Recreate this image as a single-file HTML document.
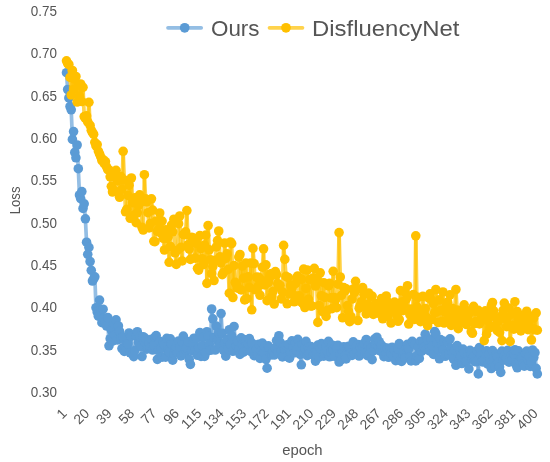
<!DOCTYPE html>
<html><head><meta charset="utf-8"><title>Loss</title>
<style>
html,body{margin:0;padding:0;background:#fff;}
svg{display:block;}
text{font-family:"Liberation Sans",sans-serif;fill:#555555;}
</style></head><body>
<svg width="550" height="462" viewBox="0 0 550 462">
<rect width="550" height="462" fill="#ffffff"/>

<g font-size="14px" text-anchor="start">
<text x="30.7" y="15.95" textLength="26.2" lengthAdjust="spacingAndGlyphs">0.75</text>
<text x="30.7" y="58.29" textLength="26.2" lengthAdjust="spacingAndGlyphs">0.70</text>
<text x="30.7" y="100.63" textLength="26.2" lengthAdjust="spacingAndGlyphs">0.65</text>
<text x="30.7" y="142.97" textLength="26.2" lengthAdjust="spacingAndGlyphs">0.60</text>
<text x="30.7" y="185.31" textLength="26.2" lengthAdjust="spacingAndGlyphs">0.55</text>
<text x="30.7" y="227.65" textLength="26.2" lengthAdjust="spacingAndGlyphs">0.50</text>
<text x="30.7" y="269.99" textLength="26.2" lengthAdjust="spacingAndGlyphs">0.45</text>
<text x="30.7" y="312.33" textLength="26.2" lengthAdjust="spacingAndGlyphs">0.40</text>
<text x="30.7" y="354.67" textLength="26.2" lengthAdjust="spacingAndGlyphs">0.35</text>
<text x="30.7" y="397.01" textLength="26.2" lengthAdjust="spacingAndGlyphs">0.30</text>
</g>
<g font-size="13.8px" text-anchor="end">
<text transform="translate(67.80,414.2) rotate(-45)">1</text>
<text transform="translate(90.22,414.2) rotate(-45)">20</text>
<text transform="translate(112.64,414.2) rotate(-45)">39</text>
<text transform="translate(135.06,414.2) rotate(-45)">58</text>
<text transform="translate(157.48,414.2) rotate(-45)">77</text>
<text transform="translate(179.90,414.2) rotate(-45)">96</text>
<text transform="translate(202.32,414.2) rotate(-45)">115</text>
<text transform="translate(224.74,414.2) rotate(-45)">134</text>
<text transform="translate(247.16,414.2) rotate(-45)">153</text>
<text transform="translate(269.58,414.2) rotate(-45)">172</text>
<text transform="translate(292.00,414.2) rotate(-45)">191</text>
<text transform="translate(314.42,414.2) rotate(-45)">210</text>
<text transform="translate(336.84,414.2) rotate(-45)">229</text>
<text transform="translate(359.26,414.2) rotate(-45)">248</text>
<text transform="translate(381.68,414.2) rotate(-45)">267</text>
<text transform="translate(404.10,414.2) rotate(-45)">286</text>
<text transform="translate(426.52,414.2) rotate(-45)">305</text>
<text transform="translate(448.94,414.2) rotate(-45)">324</text>
<text transform="translate(471.36,414.2) rotate(-45)">343</text>
<text transform="translate(493.78,414.2) rotate(-45)">362</text>
<text transform="translate(516.20,414.2) rotate(-45)">381</text>
<text transform="translate(538.62,414.2) rotate(-45)">400</text>
</g>
<text transform="translate(20,200.4) rotate(-90)" font-size="14.5px" text-anchor="middle" textLength="27.8" lengthAdjust="spacingAndGlyphs">Loss</text>
<text x="302.4" y="454.6" font-size="14.8px" text-anchor="middle" textLength="40.5" lengthAdjust="spacingAndGlyphs">epoch</text>
<g><g stroke="#5B9BD5" stroke-opacity="0.65" stroke-width="3.7" stroke-linecap="round"><line x1="66.50" y1="72.70" x2="67.68" y2="89.50"/><line x1="67.68" y1="89.50" x2="68.86" y2="97.90"/><line x1="68.86" y1="97.90" x2="70.04" y2="106.50"/><line x1="70.04" y1="106.50" x2="71.22" y2="109.80"/><line x1="71.22" y1="109.80" x2="72.40" y2="139.40"/><line x1="72.40" y1="139.40" x2="73.58" y2="131.60"/><line x1="73.58" y1="131.60" x2="74.76" y2="152.40"/><line x1="74.76" y1="152.40" x2="75.94" y2="157.80"/><line x1="75.94" y1="157.80" x2="77.12" y2="145.00"/><line x1="77.12" y1="145.00" x2="78.30" y2="168.70"/><line x1="78.30" y1="168.70" x2="79.48" y2="195.00"/><line x1="79.48" y1="195.00" x2="80.66" y2="198.60"/><line x1="80.66" y1="198.60" x2="81.84" y2="191.60"/><line x1="81.84" y1="191.60" x2="83.02" y2="208.40"/><line x1="83.02" y1="208.40" x2="84.20" y2="203.80"/><line x1="84.20" y1="203.80" x2="85.38" y2="218.80"/><line x1="85.38" y1="218.80" x2="86.56" y2="242.20"/><line x1="86.56" y1="242.20" x2="87.74" y2="254.30"/><line x1="87.74" y1="254.30" x2="88.92" y2="247.40"/><line x1="88.92" y1="247.40" x2="90.10" y2="261.50"/><line x1="90.10" y1="261.50" x2="91.28" y2="270.30"/><line x1="91.28" y1="270.30" x2="92.46" y2="281.00"/><line x1="92.46" y1="281.00" x2="93.64" y2="279.00"/><line x1="93.64" y1="279.00" x2="94.82" y2="276.80"/><line x1="94.82" y1="276.80" x2="96.00" y2="307.70"/><line x1="96.00" y1="307.70" x2="97.18" y2="312.00"/><line x1="97.18" y1="312.00" x2="98.36" y2="316.20"/><line x1="98.36" y1="316.20" x2="99.54" y2="300.10"/><line x1="99.54" y1="300.10" x2="100.72" y2="310.00"/><line x1="100.72" y1="310.00" x2="101.90" y2="322.70"/><line x1="101.90" y1="322.70" x2="103.08" y2="309.20"/><line x1="103.08" y1="309.20" x2="104.26" y2="318.00"/><line x1="104.26" y1="318.00" x2="105.44" y2="322.00"/><line x1="105.44" y1="322.00" x2="106.62" y2="326.00"/><line x1="106.62" y1="326.00" x2="107.80" y2="317.60"/><line x1="107.80" y1="317.60" x2="108.98" y2="345.80"/><line x1="108.98" y1="345.80" x2="110.16" y2="338.70"/><line x1="110.16" y1="338.70" x2="111.34" y2="330.00"/><line x1="111.34" y1="330.00" x2="112.52" y2="341.00"/><line x1="112.52" y1="341.00" x2="113.70" y2="323.60"/><line x1="113.70" y1="323.60" x2="114.88" y2="335.00"/><line x1="114.88" y1="335.00" x2="116.06" y2="319.90"/><line x1="116.06" y1="319.90" x2="117.24" y2="340.00"/><line x1="117.24" y1="340.00" x2="118.42" y2="326.00"/><line x1="118.42" y1="326.00" x2="119.60" y2="331.49"/><line x1="119.60" y1="331.49" x2="120.78" y2="338.09"/><line x1="120.78" y1="338.09" x2="121.96" y2="348.60"/><line x1="121.96" y1="348.60" x2="123.14" y2="336.98"/><line x1="123.14" y1="336.98" x2="124.32" y2="351.47"/><line x1="124.32" y1="351.47" x2="125.50" y2="346.84"/><line x1="125.50" y1="346.84" x2="126.68" y2="343.08"/><line x1="126.68" y1="343.08" x2="127.86" y2="343.79"/><line x1="127.86" y1="343.79" x2="129.04" y2="333.00"/><line x1="129.04" y1="333.00" x2="130.22" y2="352.85"/><line x1="130.22" y1="352.85" x2="131.40" y2="336.13"/><line x1="131.40" y1="336.13" x2="132.58" y2="354.00"/><line x1="132.58" y1="354.00" x2="133.76" y2="356.62"/><line x1="133.76" y1="356.62" x2="134.94" y2="350.32"/><line x1="134.94" y1="350.32" x2="136.12" y2="336.16"/><line x1="136.12" y1="336.16" x2="137.30" y2="331.70"/><line x1="137.30" y1="331.70" x2="138.48" y2="342.62"/><line x1="138.48" y1="342.62" x2="139.66" y2="336.34"/><line x1="139.66" y1="336.34" x2="140.84" y2="346.26"/><line x1="140.84" y1="346.26" x2="142.02" y2="356.50"/><line x1="142.02" y1="356.50" x2="143.20" y2="336.75"/><line x1="143.20" y1="336.75" x2="144.38" y2="341.65"/><line x1="144.38" y1="341.65" x2="145.56" y2="338.60"/><line x1="145.56" y1="338.60" x2="146.74" y2="349.22"/><line x1="146.74" y1="349.22" x2="147.92" y2="347.54"/><line x1="147.92" y1="347.54" x2="149.10" y2="343.10"/><line x1="149.10" y1="343.10" x2="150.28" y2="347.81"/><line x1="150.28" y1="347.81" x2="151.46" y2="339.33"/><line x1="151.46" y1="339.33" x2="152.64" y2="350.04"/><line x1="152.64" y1="350.04" x2="153.82" y2="345.33"/><line x1="153.82" y1="345.33" x2="155.00" y2="337.23"/><line x1="155.00" y1="337.23" x2="156.18" y2="335.62"/><line x1="156.18" y1="335.62" x2="157.36" y2="359.37"/><line x1="157.36" y1="359.37" x2="158.54" y2="350.20"/><line x1="158.54" y1="350.20" x2="159.72" y2="341.19"/><line x1="159.72" y1="341.19" x2="160.90" y2="348.11"/><line x1="160.90" y1="348.11" x2="162.08" y2="357.19"/><line x1="162.08" y1="357.19" x2="163.26" y2="342.50"/><line x1="163.26" y1="342.50" x2="164.44" y2="345.00"/><line x1="164.44" y1="345.00" x2="165.62" y2="357.16"/><line x1="165.62" y1="357.16" x2="166.80" y2="338.28"/><line x1="166.80" y1="338.28" x2="167.98" y2="349.96"/><line x1="167.98" y1="349.96" x2="169.16" y2="352.14"/><line x1="169.16" y1="352.14" x2="170.34" y2="338.91"/><line x1="170.34" y1="338.91" x2="171.52" y2="344.21"/><line x1="171.52" y1="344.21" x2="172.70" y2="360.15"/><line x1="172.70" y1="360.15" x2="173.88" y2="353.60"/><line x1="173.88" y1="353.60" x2="175.06" y2="349.22"/><line x1="175.06" y1="349.22" x2="176.24" y2="347.28"/><line x1="176.24" y1="347.28" x2="177.42" y2="352.79"/><line x1="177.42" y1="352.79" x2="178.60" y2="341.00"/><line x1="178.60" y1="341.00" x2="179.78" y2="347.03"/><line x1="179.78" y1="347.03" x2="180.96" y2="355.91"/><line x1="180.96" y1="355.91" x2="182.14" y2="341.84"/><line x1="182.14" y1="341.84" x2="183.32" y2="336.12"/><line x1="183.32" y1="336.12" x2="184.50" y2="353.58"/><line x1="184.50" y1="353.58" x2="185.68" y2="349.74"/><line x1="185.68" y1="349.74" x2="186.86" y2="348.01"/><line x1="186.86" y1="348.01" x2="188.04" y2="341.50"/><line x1="188.04" y1="341.50" x2="189.22" y2="359.43"/><line x1="189.22" y1="359.43" x2="190.40" y2="364.35"/><line x1="190.40" y1="364.35" x2="191.58" y2="350.55"/><line x1="191.58" y1="350.55" x2="192.76" y2="343.53"/><line x1="192.76" y1="343.53" x2="193.94" y2="338.26"/><line x1="193.94" y1="338.26" x2="195.12" y2="350.50"/><line x1="195.12" y1="350.50" x2="196.30" y2="338.25"/><line x1="196.30" y1="338.25" x2="197.48" y2="355.30"/><line x1="197.48" y1="355.30" x2="198.66" y2="347.55"/><line x1="198.66" y1="347.55" x2="199.84" y2="332.52"/><line x1="199.84" y1="332.52" x2="201.02" y2="356.35"/><line x1="201.02" y1="356.35" x2="202.20" y2="345.92"/><line x1="202.20" y1="345.92" x2="203.38" y2="337.29"/><line x1="203.38" y1="337.29" x2="204.56" y2="356.40"/><line x1="204.56" y1="356.40" x2="205.74" y2="352.75"/><line x1="205.74" y1="352.75" x2="206.92" y2="331.71"/><line x1="206.92" y1="331.71" x2="208.10" y2="335.88"/><line x1="208.10" y1="335.88" x2="209.28" y2="344.14"/><line x1="209.28" y1="344.14" x2="210.46" y2="350.25"/><line x1="210.46" y1="350.25" x2="211.64" y2="309.00"/><line x1="211.64" y1="309.00" x2="212.82" y2="318.80"/><line x1="212.82" y1="318.80" x2="214.00" y2="337.56"/><line x1="214.00" y1="337.56" x2="215.18" y2="350.00"/><line x1="215.18" y1="350.00" x2="216.36" y2="326.07"/><line x1="216.36" y1="326.07" x2="217.54" y2="340.06"/><line x1="217.54" y1="340.06" x2="218.72" y2="332.79"/><line x1="218.72" y1="332.79" x2="219.90" y2="344.45"/><line x1="219.90" y1="344.45" x2="221.08" y2="313.60"/><line x1="221.08" y1="313.60" x2="222.26" y2="333.25"/><line x1="222.26" y1="333.25" x2="223.44" y2="350.35"/><line x1="223.44" y1="350.35" x2="224.62" y2="343.17"/><line x1="224.62" y1="343.17" x2="225.80" y2="356.20"/><line x1="225.80" y1="356.20" x2="226.98" y2="339.51"/><line x1="226.98" y1="339.51" x2="228.16" y2="348.70"/><line x1="228.16" y1="348.70" x2="229.34" y2="329.68"/><line x1="229.34" y1="329.68" x2="230.52" y2="344.33"/><line x1="230.52" y1="344.33" x2="231.70" y2="335.79"/><line x1="231.70" y1="335.79" x2="232.88" y2="351.30"/><line x1="232.88" y1="351.30" x2="234.06" y2="326.44"/><line x1="234.06" y1="326.44" x2="235.24" y2="340.90"/><line x1="235.24" y1="340.90" x2="236.42" y2="345.88"/><line x1="236.42" y1="345.88" x2="237.60" y2="341.37"/><line x1="237.60" y1="341.37" x2="238.78" y2="349.65"/><line x1="238.78" y1="349.65" x2="239.96" y2="354.42"/><line x1="239.96" y1="354.42" x2="241.14" y2="337.87"/><line x1="241.14" y1="337.87" x2="242.32" y2="344.50"/><line x1="242.32" y1="344.50" x2="243.50" y2="352.13"/><line x1="243.50" y1="352.13" x2="244.68" y2="340.33"/><line x1="244.68" y1="340.33" x2="245.86" y2="339.81"/><line x1="245.86" y1="339.81" x2="247.04" y2="349.97"/><line x1="247.04" y1="349.97" x2="248.22" y2="344.20"/><line x1="248.22" y1="344.20" x2="249.40" y2="338.52"/><line x1="249.40" y1="338.52" x2="250.58" y2="351.42"/><line x1="250.58" y1="351.42" x2="251.76" y2="343.00"/><line x1="251.76" y1="343.00" x2="252.94" y2="350.45"/><line x1="252.94" y1="350.45" x2="254.12" y2="355.72"/><line x1="254.12" y1="355.72" x2="255.30" y2="345.03"/><line x1="255.30" y1="345.03" x2="256.48" y2="349.28"/><line x1="256.48" y1="349.28" x2="257.66" y2="355.04"/><line x1="257.66" y1="355.04" x2="258.84" y2="344.22"/><line x1="258.84" y1="344.22" x2="260.02" y2="358.44"/><line x1="260.02" y1="358.44" x2="261.20" y2="351.17"/><line x1="261.20" y1="351.17" x2="262.38" y2="343.15"/><line x1="262.38" y1="343.15" x2="263.56" y2="352.71"/><line x1="263.56" y1="352.71" x2="264.74" y2="346.49"/><line x1="264.74" y1="346.49" x2="265.92" y2="359.42"/><line x1="265.92" y1="359.42" x2="267.10" y2="368.20"/><line x1="267.10" y1="368.20" x2="268.28" y2="345.80"/><line x1="268.28" y1="345.80" x2="269.46" y2="347.95"/><line x1="269.46" y1="347.95" x2="270.64" y2="354.88"/><line x1="270.64" y1="354.88" x2="271.82" y2="354.57"/><line x1="271.82" y1="354.57" x2="273.00" y2="351.01"/><line x1="273.00" y1="351.01" x2="274.18" y2="354.99"/><line x1="274.18" y1="354.99" x2="275.36" y2="348.06"/><line x1="275.36" y1="348.06" x2="276.54" y2="340.58"/><line x1="276.54" y1="340.58" x2="277.72" y2="352.02"/><line x1="277.72" y1="352.02" x2="278.90" y2="335.75"/><line x1="278.90" y1="335.75" x2="280.08" y2="342.08"/><line x1="280.08" y1="342.08" x2="281.26" y2="350.52"/><line x1="281.26" y1="350.52" x2="282.44" y2="356.88"/><line x1="282.44" y1="356.88" x2="283.62" y2="346.56"/><line x1="283.62" y1="346.56" x2="284.80" y2="349.58"/><line x1="284.80" y1="349.58" x2="285.98" y2="345.42"/><line x1="285.98" y1="345.42" x2="287.16" y2="356.51"/><line x1="287.16" y1="356.51" x2="288.34" y2="344.46"/><line x1="288.34" y1="344.46" x2="289.52" y2="358.22"/><line x1="289.52" y1="358.22" x2="290.70" y2="352.61"/><line x1="290.70" y1="352.61" x2="291.88" y2="340.88"/><line x1="291.88" y1="340.88" x2="293.06" y2="347.39"/><line x1="293.06" y1="347.39" x2="294.24" y2="352.93"/><line x1="294.24" y1="352.93" x2="295.42" y2="342.77"/><line x1="295.42" y1="342.77" x2="296.60" y2="350.40"/><line x1="296.60" y1="350.40" x2="297.78" y2="339.37"/><line x1="297.78" y1="339.37" x2="298.96" y2="346.60"/><line x1="298.96" y1="346.60" x2="300.14" y2="354.42"/><line x1="300.14" y1="354.42" x2="301.32" y2="364.80"/><line x1="301.32" y1="364.80" x2="302.50" y2="344.73"/><line x1="302.50" y1="344.73" x2="303.68" y2="350.77"/><line x1="303.68" y1="350.77" x2="304.86" y2="348.73"/><line x1="304.86" y1="348.73" x2="306.04" y2="341.41"/><line x1="306.04" y1="341.41" x2="307.22" y2="355.66"/><line x1="307.22" y1="355.66" x2="308.40" y2="347.05"/><line x1="308.40" y1="347.05" x2="309.58" y2="353.61"/><line x1="309.58" y1="353.61" x2="310.76" y2="346.49"/><line x1="310.76" y1="346.49" x2="311.94" y2="349.55"/><line x1="311.94" y1="349.55" x2="313.12" y2="355.16"/><line x1="313.12" y1="355.16" x2="314.30" y2="352.93"/><line x1="314.30" y1="352.93" x2="315.48" y2="361.12"/><line x1="315.48" y1="361.12" x2="316.66" y2="351.99"/><line x1="316.66" y1="351.99" x2="317.84" y2="345.07"/><line x1="317.84" y1="345.07" x2="319.02" y2="357.16"/><line x1="319.02" y1="357.16" x2="320.20" y2="348.57"/><line x1="320.20" y1="348.57" x2="321.38" y2="343.56"/><line x1="321.38" y1="343.56" x2="322.56" y2="345.66"/><line x1="322.56" y1="345.66" x2="323.74" y2="356.09"/><line x1="323.74" y1="356.09" x2="324.92" y2="353.28"/><line x1="324.92" y1="353.28" x2="326.10" y2="346.40"/><line x1="326.10" y1="346.40" x2="327.28" y2="351.09"/><line x1="327.28" y1="351.09" x2="328.46" y2="341.38"/><line x1="328.46" y1="341.38" x2="329.64" y2="356.82"/><line x1="329.64" y1="356.82" x2="330.82" y2="352.47"/><line x1="330.82" y1="352.47" x2="332.00" y2="344.95"/><line x1="332.00" y1="344.95" x2="333.18" y2="349.89"/><line x1="333.18" y1="349.89" x2="334.36" y2="356.30"/><line x1="334.36" y1="356.30" x2="335.54" y2="346.13"/><line x1="335.54" y1="346.13" x2="336.72" y2="348.08"/><line x1="336.72" y1="348.08" x2="337.90" y2="345.28"/><line x1="337.90" y1="345.28" x2="339.08" y2="362.06"/><line x1="339.08" y1="362.06" x2="340.26" y2="354.24"/><line x1="340.26" y1="354.24" x2="341.44" y2="359.58"/><line x1="341.44" y1="359.58" x2="342.62" y2="351.77"/><line x1="342.62" y1="351.77" x2="343.80" y2="346.70"/><line x1="343.80" y1="346.70" x2="344.98" y2="356.24"/><line x1="344.98" y1="356.24" x2="346.16" y2="358.84"/><line x1="346.16" y1="358.84" x2="347.34" y2="347.37"/><line x1="347.34" y1="347.37" x2="348.52" y2="346.32"/><line x1="348.52" y1="346.32" x2="349.70" y2="347.78"/><line x1="349.70" y1="347.78" x2="350.88" y2="352.91"/><line x1="350.88" y1="352.91" x2="352.06" y2="355.46"/><line x1="352.06" y1="355.46" x2="353.24" y2="341.88"/><line x1="353.24" y1="341.88" x2="354.42" y2="353.65"/><line x1="354.42" y1="353.65" x2="355.60" y2="347.62"/><line x1="355.60" y1="347.62" x2="356.78" y2="350.81"/><line x1="356.78" y1="350.81" x2="357.96" y2="344.57"/><line x1="357.96" y1="344.57" x2="359.14" y2="356.06"/><line x1="359.14" y1="356.06" x2="360.32" y2="347.25"/><line x1="360.32" y1="347.25" x2="361.50" y2="353.79"/><line x1="361.50" y1="353.79" x2="362.68" y2="346.09"/><line x1="362.68" y1="346.09" x2="363.86" y2="343.43"/><line x1="363.86" y1="343.43" x2="365.04" y2="353.57"/><line x1="365.04" y1="353.57" x2="366.22" y2="339.50"/><line x1="366.22" y1="339.50" x2="367.40" y2="355.72"/><line x1="367.40" y1="355.72" x2="368.58" y2="345.70"/><line x1="368.58" y1="345.70" x2="369.76" y2="353.42"/><line x1="369.76" y1="353.42" x2="370.94" y2="348.06"/><line x1="370.94" y1="348.06" x2="372.12" y2="359.59"/><line x1="372.12" y1="359.59" x2="373.30" y2="350.89"/><line x1="373.30" y1="350.89" x2="374.48" y2="339.07"/><line x1="374.48" y1="339.07" x2="375.66" y2="344.54"/><line x1="375.66" y1="344.54" x2="376.84" y2="337.24"/><line x1="376.84" y1="337.24" x2="378.02" y2="346.33"/><line x1="378.02" y1="346.33" x2="379.20" y2="341.71"/><line x1="379.20" y1="341.71" x2="380.38" y2="351.18"/><line x1="380.38" y1="351.18" x2="381.56" y2="345.02"/><line x1="381.56" y1="345.02" x2="382.74" y2="352.27"/><line x1="382.74" y1="352.27" x2="383.92" y2="356.69"/><line x1="383.92" y1="356.69" x2="385.10" y2="347.71"/><line x1="385.10" y1="347.71" x2="386.28" y2="353.66"/><line x1="386.28" y1="353.66" x2="387.46" y2="348.38"/><line x1="387.46" y1="348.38" x2="388.64" y2="357.32"/><line x1="388.64" y1="357.32" x2="389.82" y2="348.28"/><line x1="389.82" y1="348.28" x2="391.00" y2="353.46"/><line x1="391.00" y1="353.46" x2="392.18" y2="347.39"/><line x1="392.18" y1="347.39" x2="393.36" y2="355.74"/><line x1="393.36" y1="355.74" x2="394.54" y2="350.18"/><line x1="394.54" y1="350.18" x2="395.72" y2="360.69"/><line x1="395.72" y1="360.69" x2="396.90" y2="354.10"/><line x1="396.90" y1="354.10" x2="398.08" y2="349.22"/><line x1="398.08" y1="349.22" x2="399.26" y2="343.62"/><line x1="399.26" y1="343.62" x2="400.44" y2="360.46"/><line x1="400.44" y1="360.46" x2="401.62" y2="361.44"/><line x1="401.62" y1="361.44" x2="402.80" y2="354.13"/><line x1="402.80" y1="354.13" x2="403.98" y2="351.40"/><line x1="403.98" y1="351.40" x2="405.16" y2="357.98"/><line x1="405.16" y1="357.98" x2="406.34" y2="347.32"/><line x1="406.34" y1="347.32" x2="407.52" y2="344.22"/><line x1="407.52" y1="344.22" x2="408.70" y2="348.94"/><line x1="408.70" y1="348.94" x2="409.88" y2="356.80"/><line x1="409.88" y1="356.80" x2="411.06" y2="360.89"/><line x1="411.06" y1="360.89" x2="412.24" y2="341.40"/><line x1="412.24" y1="341.40" x2="413.42" y2="343.45"/><line x1="413.42" y1="343.45" x2="414.60" y2="344.55"/><line x1="414.60" y1="344.55" x2="415.78" y2="360.89"/><line x1="415.78" y1="360.89" x2="416.96" y2="355.64"/><line x1="416.96" y1="355.64" x2="418.14" y2="347.13"/><line x1="418.14" y1="347.13" x2="419.32" y2="358.38"/><line x1="419.32" y1="358.38" x2="420.50" y2="341.23"/><line x1="420.50" y1="341.23" x2="421.68" y2="351.30"/><line x1="421.68" y1="351.30" x2="422.86" y2="342.15"/><line x1="422.86" y1="342.15" x2="424.04" y2="346.93"/><line x1="424.04" y1="346.93" x2="425.22" y2="334.17"/><line x1="425.22" y1="334.17" x2="426.40" y2="349.44"/><line x1="426.40" y1="349.44" x2="427.58" y2="339.74"/><line x1="427.58" y1="339.74" x2="428.76" y2="349.59"/><line x1="428.76" y1="349.59" x2="429.94" y2="351.16"/><line x1="429.94" y1="351.16" x2="431.12" y2="339.09"/><line x1="431.12" y1="339.09" x2="432.30" y2="345.95"/><line x1="432.30" y1="345.95" x2="433.48" y2="354.42"/><line x1="433.48" y1="354.42" x2="434.66" y2="331.46"/><line x1="434.66" y1="331.46" x2="435.84" y2="333.60"/><line x1="435.84" y1="333.60" x2="437.02" y2="343.63"/><line x1="437.02" y1="343.63" x2="438.20" y2="349.37"/><line x1="438.20" y1="349.37" x2="439.38" y2="358.80"/><line x1="439.38" y1="358.80" x2="440.56" y2="339.59"/><line x1="440.56" y1="339.59" x2="441.74" y2="345.19"/><line x1="441.74" y1="345.19" x2="442.92" y2="349.91"/><line x1="442.92" y1="349.91" x2="444.10" y2="341.34"/><line x1="444.10" y1="341.34" x2="445.28" y2="356.32"/><line x1="445.28" y1="356.32" x2="446.46" y2="353.86"/><line x1="446.46" y1="353.86" x2="447.64" y2="341.86"/><line x1="447.64" y1="341.86" x2="448.82" y2="354.34"/><line x1="448.82" y1="354.34" x2="450.00" y2="338.80"/><line x1="450.00" y1="338.80" x2="451.18" y2="348.31"/><line x1="451.18" y1="348.31" x2="452.36" y2="352.63"/><line x1="452.36" y1="352.63" x2="453.54" y2="359.11"/><line x1="453.54" y1="359.11" x2="454.72" y2="350.14"/><line x1="454.72" y1="350.14" x2="455.90" y2="365.27"/><line x1="455.90" y1="365.27" x2="457.08" y2="345.52"/><line x1="457.08" y1="345.52" x2="458.26" y2="356.87"/><line x1="458.26" y1="356.87" x2="459.44" y2="354.34"/><line x1="459.44" y1="354.34" x2="460.62" y2="356.22"/><line x1="460.62" y1="356.22" x2="461.80" y2="363.52"/><line x1="461.80" y1="363.52" x2="462.98" y2="349.06"/><line x1="462.98" y1="349.06" x2="464.16" y2="352.68"/><line x1="464.16" y1="352.68" x2="465.34" y2="360.91"/><line x1="465.34" y1="360.91" x2="466.52" y2="360.79"/><line x1="466.52" y1="360.79" x2="467.70" y2="354.57"/><line x1="467.70" y1="354.57" x2="468.88" y2="368.94"/><line x1="468.88" y1="368.94" x2="470.06" y2="350.32"/><line x1="470.06" y1="350.32" x2="471.24" y2="354.30"/><line x1="471.24" y1="354.30" x2="472.42" y2="359.18"/><line x1="472.42" y1="359.18" x2="473.60" y2="356.44"/><line x1="473.60" y1="356.44" x2="474.78" y2="361.50"/><line x1="474.78" y1="361.50" x2="475.96" y2="361.81"/><line x1="475.96" y1="361.81" x2="477.14" y2="350.69"/><line x1="477.14" y1="350.69" x2="478.32" y2="373.90"/><line x1="478.32" y1="373.90" x2="479.50" y2="347.44"/><line x1="479.50" y1="347.44" x2="480.68" y2="355.12"/><line x1="480.68" y1="355.12" x2="481.86" y2="361.11"/><line x1="481.86" y1="361.11" x2="483.04" y2="362.05"/><line x1="483.04" y1="362.05" x2="484.22" y2="360.19"/><line x1="484.22" y1="360.19" x2="485.40" y2="353.57"/><line x1="485.40" y1="353.57" x2="486.58" y2="350.87"/><line x1="486.58" y1="350.87" x2="487.76" y2="364.07"/><line x1="487.76" y1="364.07" x2="488.94" y2="354.46"/><line x1="488.94" y1="354.46" x2="490.12" y2="359.86"/><line x1="490.12" y1="359.86" x2="491.30" y2="368.52"/><line x1="491.30" y1="368.52" x2="492.48" y2="350.62"/><line x1="492.48" y1="350.62" x2="493.66" y2="358.06"/><line x1="493.66" y1="358.06" x2="494.84" y2="366.30"/><line x1="494.84" y1="366.30" x2="496.02" y2="353.95"/><line x1="496.02" y1="353.95" x2="497.20" y2="356.71"/><line x1="497.20" y1="356.71" x2="498.38" y2="362.36"/><line x1="498.38" y1="362.36" x2="499.56" y2="367.10"/><line x1="499.56" y1="367.10" x2="500.74" y2="372.37"/><line x1="500.74" y1="372.37" x2="501.92" y2="351.02"/><line x1="501.92" y1="351.02" x2="503.10" y2="360.24"/><line x1="503.10" y1="360.24" x2="504.28" y2="355.87"/><line x1="504.28" y1="355.87" x2="505.46" y2="354.71"/><line x1="505.46" y1="354.71" x2="506.64" y2="358.57"/><line x1="506.64" y1="358.57" x2="507.82" y2="350.20"/><line x1="507.82" y1="350.20" x2="509.00" y2="362.16"/><line x1="509.00" y1="362.16" x2="510.18" y2="358.74"/><line x1="510.18" y1="358.74" x2="511.36" y2="355.26"/><line x1="511.36" y1="355.26" x2="512.54" y2="358.86"/><line x1="512.54" y1="358.86" x2="513.72" y2="353.92"/><line x1="513.72" y1="353.92" x2="514.90" y2="349.76"/><line x1="514.90" y1="349.76" x2="516.08" y2="364.74"/><line x1="516.08" y1="364.74" x2="517.26" y2="367.77"/><line x1="517.26" y1="367.77" x2="518.44" y2="350.80"/><line x1="518.44" y1="350.80" x2="519.62" y2="361.10"/><line x1="519.62" y1="361.10" x2="520.80" y2="357.03"/><line x1="520.80" y1="357.03" x2="521.98" y2="358.04"/><line x1="521.98" y1="358.04" x2="523.16" y2="364.02"/><line x1="523.16" y1="364.02" x2="524.34" y2="366.17"/><line x1="524.34" y1="366.17" x2="525.52" y2="353.40"/><line x1="525.52" y1="353.40" x2="526.70" y2="351.02"/><line x1="526.70" y1="351.02" x2="527.88" y2="359.86"/><line x1="527.88" y1="359.86" x2="529.06" y2="356.10"/><line x1="529.06" y1="356.10" x2="530.24" y2="366.39"/><line x1="530.24" y1="366.39" x2="531.42" y2="362.75"/><line x1="531.42" y1="362.75" x2="532.60" y2="349.94"/><line x1="532.60" y1="349.94" x2="533.78" y2="357.52"/><line x1="533.78" y1="357.52" x2="534.96" y2="352.64"/><line x1="534.96" y1="352.64" x2="536.14" y2="368.40"/><line x1="536.14" y1="368.40" x2="537.32" y2="373.90"/></g><g fill="#5B9BD5"><circle cx="66.50" cy="72.70" r="4.8"/><circle cx="67.68" cy="89.50" r="4.8"/><circle cx="68.86" cy="97.90" r="4.8"/><circle cx="70.04" cy="106.50" r="4.8"/><circle cx="71.22" cy="109.80" r="4.8"/><circle cx="72.40" cy="139.40" r="4.8"/><circle cx="73.58" cy="131.60" r="4.8"/><circle cx="74.76" cy="152.40" r="4.8"/><circle cx="75.94" cy="157.80" r="4.8"/><circle cx="77.12" cy="145.00" r="4.8"/><circle cx="78.30" cy="168.70" r="4.8"/><circle cx="79.48" cy="195.00" r="4.8"/><circle cx="80.66" cy="198.60" r="4.8"/><circle cx="81.84" cy="191.60" r="4.8"/><circle cx="83.02" cy="208.40" r="4.8"/><circle cx="84.20" cy="203.80" r="4.8"/><circle cx="85.38" cy="218.80" r="4.8"/><circle cx="86.56" cy="242.20" r="4.8"/><circle cx="87.74" cy="254.30" r="4.8"/><circle cx="88.92" cy="247.40" r="4.8"/><circle cx="90.10" cy="261.50" r="4.8"/><circle cx="91.28" cy="270.30" r="4.8"/><circle cx="92.46" cy="281.00" r="4.8"/><circle cx="93.64" cy="279.00" r="4.8"/><circle cx="94.82" cy="276.80" r="4.8"/><circle cx="96.00" cy="307.70" r="4.8"/><circle cx="97.18" cy="312.00" r="4.8"/><circle cx="98.36" cy="316.20" r="4.8"/><circle cx="99.54" cy="300.10" r="4.8"/><circle cx="100.72" cy="310.00" r="4.8"/><circle cx="101.90" cy="322.70" r="4.8"/><circle cx="103.08" cy="309.20" r="4.8"/><circle cx="104.26" cy="318.00" r="4.8"/><circle cx="105.44" cy="322.00" r="4.8"/><circle cx="106.62" cy="326.00" r="4.8"/><circle cx="107.80" cy="317.60" r="4.8"/><circle cx="108.98" cy="345.80" r="4.8"/><circle cx="110.16" cy="338.70" r="4.8"/><circle cx="111.34" cy="330.00" r="4.8"/><circle cx="112.52" cy="341.00" r="4.8"/><circle cx="113.70" cy="323.60" r="4.8"/><circle cx="114.88" cy="335.00" r="4.8"/><circle cx="116.06" cy="319.90" r="4.8"/><circle cx="117.24" cy="340.00" r="4.8"/><circle cx="118.42" cy="326.00" r="4.8"/><circle cx="119.60" cy="331.49" r="4.8"/><circle cx="120.78" cy="338.09" r="4.8"/><circle cx="121.96" cy="348.60" r="4.8"/><circle cx="123.14" cy="336.98" r="4.8"/><circle cx="124.32" cy="351.47" r="4.8"/><circle cx="125.50" cy="346.84" r="4.8"/><circle cx="126.68" cy="343.08" r="4.8"/><circle cx="127.86" cy="343.79" r="4.8"/><circle cx="129.04" cy="333.00" r="4.8"/><circle cx="130.22" cy="352.85" r="4.8"/><circle cx="131.40" cy="336.13" r="4.8"/><circle cx="132.58" cy="354.00" r="4.8"/><circle cx="133.76" cy="356.62" r="4.8"/><circle cx="134.94" cy="350.32" r="4.8"/><circle cx="136.12" cy="336.16" r="4.8"/><circle cx="137.30" cy="331.70" r="4.8"/><circle cx="138.48" cy="342.62" r="4.8"/><circle cx="139.66" cy="336.34" r="4.8"/><circle cx="140.84" cy="346.26" r="4.8"/><circle cx="142.02" cy="356.50" r="4.8"/><circle cx="143.20" cy="336.75" r="4.8"/><circle cx="144.38" cy="341.65" r="4.8"/><circle cx="145.56" cy="338.60" r="4.8"/><circle cx="146.74" cy="349.22" r="4.8"/><circle cx="147.92" cy="347.54" r="4.8"/><circle cx="149.10" cy="343.10" r="4.8"/><circle cx="150.28" cy="347.81" r="4.8"/><circle cx="151.46" cy="339.33" r="4.8"/><circle cx="152.64" cy="350.04" r="4.8"/><circle cx="153.82" cy="345.33" r="4.8"/><circle cx="155.00" cy="337.23" r="4.8"/><circle cx="156.18" cy="335.62" r="4.8"/><circle cx="157.36" cy="359.37" r="4.8"/><circle cx="158.54" cy="350.20" r="4.8"/><circle cx="159.72" cy="341.19" r="4.8"/><circle cx="160.90" cy="348.11" r="4.8"/><circle cx="162.08" cy="357.19" r="4.8"/><circle cx="163.26" cy="342.50" r="4.8"/><circle cx="164.44" cy="345.00" r="4.8"/><circle cx="165.62" cy="357.16" r="4.8"/><circle cx="166.80" cy="338.28" r="4.8"/><circle cx="167.98" cy="349.96" r="4.8"/><circle cx="169.16" cy="352.14" r="4.8"/><circle cx="170.34" cy="338.91" r="4.8"/><circle cx="171.52" cy="344.21" r="4.8"/><circle cx="172.70" cy="360.15" r="4.8"/><circle cx="173.88" cy="353.60" r="4.8"/><circle cx="175.06" cy="349.22" r="4.8"/><circle cx="176.24" cy="347.28" r="4.8"/><circle cx="177.42" cy="352.79" r="4.8"/><circle cx="178.60" cy="341.00" r="4.8"/><circle cx="179.78" cy="347.03" r="4.8"/><circle cx="180.96" cy="355.91" r="4.8"/><circle cx="182.14" cy="341.84" r="4.8"/><circle cx="183.32" cy="336.12" r="4.8"/><circle cx="184.50" cy="353.58" r="4.8"/><circle cx="185.68" cy="349.74" r="4.8"/><circle cx="186.86" cy="348.01" r="4.8"/><circle cx="188.04" cy="341.50" r="4.8"/><circle cx="189.22" cy="359.43" r="4.8"/><circle cx="190.40" cy="364.35" r="4.8"/><circle cx="191.58" cy="350.55" r="4.8"/><circle cx="192.76" cy="343.53" r="4.8"/><circle cx="193.94" cy="338.26" r="4.8"/><circle cx="195.12" cy="350.50" r="4.8"/><circle cx="196.30" cy="338.25" r="4.8"/><circle cx="197.48" cy="355.30" r="4.8"/><circle cx="198.66" cy="347.55" r="4.8"/><circle cx="199.84" cy="332.52" r="4.8"/><circle cx="201.02" cy="356.35" r="4.8"/><circle cx="202.20" cy="345.92" r="4.8"/><circle cx="203.38" cy="337.29" r="4.8"/><circle cx="204.56" cy="356.40" r="4.8"/><circle cx="205.74" cy="352.75" r="4.8"/><circle cx="206.92" cy="331.71" r="4.8"/><circle cx="208.10" cy="335.88" r="4.8"/><circle cx="209.28" cy="344.14" r="4.8"/><circle cx="210.46" cy="350.25" r="4.8"/><circle cx="211.64" cy="309.00" r="4.8"/><circle cx="212.82" cy="318.80" r="4.8"/><circle cx="214.00" cy="337.56" r="4.8"/><circle cx="215.18" cy="350.00" r="4.8"/><circle cx="216.36" cy="326.07" r="4.8"/><circle cx="217.54" cy="340.06" r="4.8"/><circle cx="218.72" cy="332.79" r="4.8"/><circle cx="219.90" cy="344.45" r="4.8"/><circle cx="221.08" cy="313.60" r="4.8"/><circle cx="222.26" cy="333.25" r="4.8"/><circle cx="223.44" cy="350.35" r="4.8"/><circle cx="224.62" cy="343.17" r="4.8"/><circle cx="225.80" cy="356.20" r="4.8"/><circle cx="226.98" cy="339.51" r="4.8"/><circle cx="228.16" cy="348.70" r="4.8"/><circle cx="229.34" cy="329.68" r="4.8"/><circle cx="230.52" cy="344.33" r="4.8"/><circle cx="231.70" cy="335.79" r="4.8"/><circle cx="232.88" cy="351.30" r="4.8"/><circle cx="234.06" cy="326.44" r="4.8"/><circle cx="235.24" cy="340.90" r="4.8"/><circle cx="236.42" cy="345.88" r="4.8"/><circle cx="237.60" cy="341.37" r="4.8"/><circle cx="238.78" cy="349.65" r="4.8"/><circle cx="239.96" cy="354.42" r="4.8"/><circle cx="241.14" cy="337.87" r="4.8"/><circle cx="242.32" cy="344.50" r="4.8"/><circle cx="243.50" cy="352.13" r="4.8"/><circle cx="244.68" cy="340.33" r="4.8"/><circle cx="245.86" cy="339.81" r="4.8"/><circle cx="247.04" cy="349.97" r="4.8"/><circle cx="248.22" cy="344.20" r="4.8"/><circle cx="249.40" cy="338.52" r="4.8"/><circle cx="250.58" cy="351.42" r="4.8"/><circle cx="251.76" cy="343.00" r="4.8"/><circle cx="252.94" cy="350.45" r="4.8"/><circle cx="254.12" cy="355.72" r="4.8"/><circle cx="255.30" cy="345.03" r="4.8"/><circle cx="256.48" cy="349.28" r="4.8"/><circle cx="257.66" cy="355.04" r="4.8"/><circle cx="258.84" cy="344.22" r="4.8"/><circle cx="260.02" cy="358.44" r="4.8"/><circle cx="261.20" cy="351.17" r="4.8"/><circle cx="262.38" cy="343.15" r="4.8"/><circle cx="263.56" cy="352.71" r="4.8"/><circle cx="264.74" cy="346.49" r="4.8"/><circle cx="265.92" cy="359.42" r="4.8"/><circle cx="267.10" cy="368.20" r="4.8"/><circle cx="268.28" cy="345.80" r="4.8"/><circle cx="269.46" cy="347.95" r="4.8"/><circle cx="270.64" cy="354.88" r="4.8"/><circle cx="271.82" cy="354.57" r="4.8"/><circle cx="273.00" cy="351.01" r="4.8"/><circle cx="274.18" cy="354.99" r="4.8"/><circle cx="275.36" cy="348.06" r="4.8"/><circle cx="276.54" cy="340.58" r="4.8"/><circle cx="277.72" cy="352.02" r="4.8"/><circle cx="278.90" cy="335.75" r="4.8"/><circle cx="280.08" cy="342.08" r="4.8"/><circle cx="281.26" cy="350.52" r="4.8"/><circle cx="282.44" cy="356.88" r="4.8"/><circle cx="283.62" cy="346.56" r="4.8"/><circle cx="284.80" cy="349.58" r="4.8"/><circle cx="285.98" cy="345.42" r="4.8"/><circle cx="287.16" cy="356.51" r="4.8"/><circle cx="288.34" cy="344.46" r="4.8"/><circle cx="289.52" cy="358.22" r="4.8"/><circle cx="290.70" cy="352.61" r="4.8"/><circle cx="291.88" cy="340.88" r="4.8"/><circle cx="293.06" cy="347.39" r="4.8"/><circle cx="294.24" cy="352.93" r="4.8"/><circle cx="295.42" cy="342.77" r="4.8"/><circle cx="296.60" cy="350.40" r="4.8"/><circle cx="297.78" cy="339.37" r="4.8"/><circle cx="298.96" cy="346.60" r="4.8"/><circle cx="300.14" cy="354.42" r="4.8"/><circle cx="301.32" cy="364.80" r="4.8"/><circle cx="302.50" cy="344.73" r="4.8"/><circle cx="303.68" cy="350.77" r="4.8"/><circle cx="304.86" cy="348.73" r="4.8"/><circle cx="306.04" cy="341.41" r="4.8"/><circle cx="307.22" cy="355.66" r="4.8"/><circle cx="308.40" cy="347.05" r="4.8"/><circle cx="309.58" cy="353.61" r="4.8"/><circle cx="310.76" cy="346.49" r="4.8"/><circle cx="311.94" cy="349.55" r="4.8"/><circle cx="313.12" cy="355.16" r="4.8"/><circle cx="314.30" cy="352.93" r="4.8"/><circle cx="315.48" cy="361.12" r="4.8"/><circle cx="316.66" cy="351.99" r="4.8"/><circle cx="317.84" cy="345.07" r="4.8"/><circle cx="319.02" cy="357.16" r="4.8"/><circle cx="320.20" cy="348.57" r="4.8"/><circle cx="321.38" cy="343.56" r="4.8"/><circle cx="322.56" cy="345.66" r="4.8"/><circle cx="323.74" cy="356.09" r="4.8"/><circle cx="324.92" cy="353.28" r="4.8"/><circle cx="326.10" cy="346.40" r="4.8"/><circle cx="327.28" cy="351.09" r="4.8"/><circle cx="328.46" cy="341.38" r="4.8"/><circle cx="329.64" cy="356.82" r="4.8"/><circle cx="330.82" cy="352.47" r="4.8"/><circle cx="332.00" cy="344.95" r="4.8"/><circle cx="333.18" cy="349.89" r="4.8"/><circle cx="334.36" cy="356.30" r="4.8"/><circle cx="335.54" cy="346.13" r="4.8"/><circle cx="336.72" cy="348.08" r="4.8"/><circle cx="337.90" cy="345.28" r="4.8"/><circle cx="339.08" cy="362.06" r="4.8"/><circle cx="340.26" cy="354.24" r="4.8"/><circle cx="341.44" cy="359.58" r="4.8"/><circle cx="342.62" cy="351.77" r="4.8"/><circle cx="343.80" cy="346.70" r="4.8"/><circle cx="344.98" cy="356.24" r="4.8"/><circle cx="346.16" cy="358.84" r="4.8"/><circle cx="347.34" cy="347.37" r="4.8"/><circle cx="348.52" cy="346.32" r="4.8"/><circle cx="349.70" cy="347.78" r="4.8"/><circle cx="350.88" cy="352.91" r="4.8"/><circle cx="352.06" cy="355.46" r="4.8"/><circle cx="353.24" cy="341.88" r="4.8"/><circle cx="354.42" cy="353.65" r="4.8"/><circle cx="355.60" cy="347.62" r="4.8"/><circle cx="356.78" cy="350.81" r="4.8"/><circle cx="357.96" cy="344.57" r="4.8"/><circle cx="359.14" cy="356.06" r="4.8"/><circle cx="360.32" cy="347.25" r="4.8"/><circle cx="361.50" cy="353.79" r="4.8"/><circle cx="362.68" cy="346.09" r="4.8"/><circle cx="363.86" cy="343.43" r="4.8"/><circle cx="365.04" cy="353.57" r="4.8"/><circle cx="366.22" cy="339.50" r="4.8"/><circle cx="367.40" cy="355.72" r="4.8"/><circle cx="368.58" cy="345.70" r="4.8"/><circle cx="369.76" cy="353.42" r="4.8"/><circle cx="370.94" cy="348.06" r="4.8"/><circle cx="372.12" cy="359.59" r="4.8"/><circle cx="373.30" cy="350.89" r="4.8"/><circle cx="374.48" cy="339.07" r="4.8"/><circle cx="375.66" cy="344.54" r="4.8"/><circle cx="376.84" cy="337.24" r="4.8"/><circle cx="378.02" cy="346.33" r="4.8"/><circle cx="379.20" cy="341.71" r="4.8"/><circle cx="380.38" cy="351.18" r="4.8"/><circle cx="381.56" cy="345.02" r="4.8"/><circle cx="382.74" cy="352.27" r="4.8"/><circle cx="383.92" cy="356.69" r="4.8"/><circle cx="385.10" cy="347.71" r="4.8"/><circle cx="386.28" cy="353.66" r="4.8"/><circle cx="387.46" cy="348.38" r="4.8"/><circle cx="388.64" cy="357.32" r="4.8"/><circle cx="389.82" cy="348.28" r="4.8"/><circle cx="391.00" cy="353.46" r="4.8"/><circle cx="392.18" cy="347.39" r="4.8"/><circle cx="393.36" cy="355.74" r="4.8"/><circle cx="394.54" cy="350.18" r="4.8"/><circle cx="395.72" cy="360.69" r="4.8"/><circle cx="396.90" cy="354.10" r="4.8"/><circle cx="398.08" cy="349.22" r="4.8"/><circle cx="399.26" cy="343.62" r="4.8"/><circle cx="400.44" cy="360.46" r="4.8"/><circle cx="401.62" cy="361.44" r="4.8"/><circle cx="402.80" cy="354.13" r="4.8"/><circle cx="403.98" cy="351.40" r="4.8"/><circle cx="405.16" cy="357.98" r="4.8"/><circle cx="406.34" cy="347.32" r="4.8"/><circle cx="407.52" cy="344.22" r="4.8"/><circle cx="408.70" cy="348.94" r="4.8"/><circle cx="409.88" cy="356.80" r="4.8"/><circle cx="411.06" cy="360.89" r="4.8"/><circle cx="412.24" cy="341.40" r="4.8"/><circle cx="413.42" cy="343.45" r="4.8"/><circle cx="414.60" cy="344.55" r="4.8"/><circle cx="415.78" cy="360.89" r="4.8"/><circle cx="416.96" cy="355.64" r="4.8"/><circle cx="418.14" cy="347.13" r="4.8"/><circle cx="419.32" cy="358.38" r="4.8"/><circle cx="420.50" cy="341.23" r="4.8"/><circle cx="421.68" cy="351.30" r="4.8"/><circle cx="422.86" cy="342.15" r="4.8"/><circle cx="424.04" cy="346.93" r="4.8"/><circle cx="425.22" cy="334.17" r="4.8"/><circle cx="426.40" cy="349.44" r="4.8"/><circle cx="427.58" cy="339.74" r="4.8"/><circle cx="428.76" cy="349.59" r="4.8"/><circle cx="429.94" cy="351.16" r="4.8"/><circle cx="431.12" cy="339.09" r="4.8"/><circle cx="432.30" cy="345.95" r="4.8"/><circle cx="433.48" cy="354.42" r="4.8"/><circle cx="434.66" cy="331.46" r="4.8"/><circle cx="435.84" cy="333.60" r="4.8"/><circle cx="437.02" cy="343.63" r="4.8"/><circle cx="438.20" cy="349.37" r="4.8"/><circle cx="439.38" cy="358.80" r="4.8"/><circle cx="440.56" cy="339.59" r="4.8"/><circle cx="441.74" cy="345.19" r="4.8"/><circle cx="442.92" cy="349.91" r="4.8"/><circle cx="444.10" cy="341.34" r="4.8"/><circle cx="445.28" cy="356.32" r="4.8"/><circle cx="446.46" cy="353.86" r="4.8"/><circle cx="447.64" cy="341.86" r="4.8"/><circle cx="448.82" cy="354.34" r="4.8"/><circle cx="450.00" cy="338.80" r="4.8"/><circle cx="451.18" cy="348.31" r="4.8"/><circle cx="452.36" cy="352.63" r="4.8"/><circle cx="453.54" cy="359.11" r="4.8"/><circle cx="454.72" cy="350.14" r="4.8"/><circle cx="455.90" cy="365.27" r="4.8"/><circle cx="457.08" cy="345.52" r="4.8"/><circle cx="458.26" cy="356.87" r="4.8"/><circle cx="459.44" cy="354.34" r="4.8"/><circle cx="460.62" cy="356.22" r="4.8"/><circle cx="461.80" cy="363.52" r="4.8"/><circle cx="462.98" cy="349.06" r="4.8"/><circle cx="464.16" cy="352.68" r="4.8"/><circle cx="465.34" cy="360.91" r="4.8"/><circle cx="466.52" cy="360.79" r="4.8"/><circle cx="467.70" cy="354.57" r="4.8"/><circle cx="468.88" cy="368.94" r="4.8"/><circle cx="470.06" cy="350.32" r="4.8"/><circle cx="471.24" cy="354.30" r="4.8"/><circle cx="472.42" cy="359.18" r="4.8"/><circle cx="473.60" cy="356.44" r="4.8"/><circle cx="474.78" cy="361.50" r="4.8"/><circle cx="475.96" cy="361.81" r="4.8"/><circle cx="477.14" cy="350.69" r="4.8"/><circle cx="478.32" cy="373.90" r="4.8"/><circle cx="479.50" cy="347.44" r="4.8"/><circle cx="480.68" cy="355.12" r="4.8"/><circle cx="481.86" cy="361.11" r="4.8"/><circle cx="483.04" cy="362.05" r="4.8"/><circle cx="484.22" cy="360.19" r="4.8"/><circle cx="485.40" cy="353.57" r="4.8"/><circle cx="486.58" cy="350.87" r="4.8"/><circle cx="487.76" cy="364.07" r="4.8"/><circle cx="488.94" cy="354.46" r="4.8"/><circle cx="490.12" cy="359.86" r="4.8"/><circle cx="491.30" cy="368.52" r="4.8"/><circle cx="492.48" cy="350.62" r="4.8"/><circle cx="493.66" cy="358.06" r="4.8"/><circle cx="494.84" cy="366.30" r="4.8"/><circle cx="496.02" cy="353.95" r="4.8"/><circle cx="497.20" cy="356.71" r="4.8"/><circle cx="498.38" cy="362.36" r="4.8"/><circle cx="499.56" cy="367.10" r="4.8"/><circle cx="500.74" cy="372.37" r="4.8"/><circle cx="501.92" cy="351.02" r="4.8"/><circle cx="503.10" cy="360.24" r="4.8"/><circle cx="504.28" cy="355.87" r="4.8"/><circle cx="505.46" cy="354.71" r="4.8"/><circle cx="506.64" cy="358.57" r="4.8"/><circle cx="507.82" cy="350.20" r="4.8"/><circle cx="509.00" cy="362.16" r="4.8"/><circle cx="510.18" cy="358.74" r="4.8"/><circle cx="511.36" cy="355.26" r="4.8"/><circle cx="512.54" cy="358.86" r="4.8"/><circle cx="513.72" cy="353.92" r="4.8"/><circle cx="514.90" cy="349.76" r="4.8"/><circle cx="516.08" cy="364.74" r="4.8"/><circle cx="517.26" cy="367.77" r="4.8"/><circle cx="518.44" cy="350.80" r="4.8"/><circle cx="519.62" cy="361.10" r="4.8"/><circle cx="520.80" cy="357.03" r="4.8"/><circle cx="521.98" cy="358.04" r="4.8"/><circle cx="523.16" cy="364.02" r="4.8"/><circle cx="524.34" cy="366.17" r="4.8"/><circle cx="525.52" cy="353.40" r="4.8"/><circle cx="526.70" cy="351.02" r="4.8"/><circle cx="527.88" cy="359.86" r="4.8"/><circle cx="529.06" cy="356.10" r="4.8"/><circle cx="530.24" cy="366.39" r="4.8"/><circle cx="531.42" cy="362.75" r="4.8"/><circle cx="532.60" cy="349.94" r="4.8"/><circle cx="533.78" cy="357.52" r="4.8"/><circle cx="534.96" cy="352.64" r="4.8"/><circle cx="536.14" cy="368.40" r="4.8"/><circle cx="537.32" cy="373.90" r="4.8"/></g></g>
<g><g stroke="#FFC000" stroke-opacity="0.7" stroke-width="3.7" stroke-linecap="round"><line x1="66.50" y1="60.80" x2="67.68" y2="63.50"/><line x1="67.68" y1="63.50" x2="68.86" y2="64.50"/><line x1="68.86" y1="64.50" x2="70.04" y2="77.48"/><line x1="70.04" y1="77.48" x2="71.22" y2="95.00"/><line x1="71.22" y1="95.00" x2="72.40" y2="70.50"/><line x1="72.40" y1="70.50" x2="73.58" y2="89.46"/><line x1="73.58" y1="89.46" x2="74.76" y2="79.06"/><line x1="74.76" y1="79.06" x2="75.94" y2="76.50"/><line x1="75.94" y1="76.50" x2="77.12" y2="102.00"/><line x1="77.12" y1="102.00" x2="78.30" y2="84.58"/><line x1="78.30" y1="84.58" x2="79.48" y2="96.29"/><line x1="79.48" y1="96.29" x2="80.66" y2="84.00"/><line x1="80.66" y1="84.00" x2="81.84" y2="101.50"/><line x1="81.84" y1="101.50" x2="83.02" y2="87.30"/><line x1="83.02" y1="87.30" x2="84.20" y2="116.60"/><line x1="84.20" y1="116.60" x2="85.38" y2="118.28"/><line x1="85.38" y1="118.28" x2="86.56" y2="115.89"/><line x1="86.56" y1="115.89" x2="87.74" y2="121.94"/><line x1="87.74" y1="121.94" x2="88.92" y2="102.30"/><line x1="88.92" y1="102.30" x2="90.10" y2="125.34"/><line x1="90.10" y1="125.34" x2="91.28" y2="130.13"/><line x1="91.28" y1="130.13" x2="92.46" y2="132.70"/><line x1="92.46" y1="132.70" x2="93.64" y2="134.26"/><line x1="93.64" y1="134.26" x2="94.82" y2="142.35"/><line x1="94.82" y1="142.35" x2="96.00" y2="145.92"/><line x1="96.00" y1="145.92" x2="97.18" y2="144.54"/><line x1="97.18" y1="144.54" x2="98.36" y2="151.10"/><line x1="98.36" y1="151.10" x2="99.54" y2="153.88"/><line x1="99.54" y1="153.88" x2="100.72" y2="156.85"/><line x1="100.72" y1="156.85" x2="101.90" y2="160.53"/><line x1="101.90" y1="160.53" x2="103.08" y2="159.70"/><line x1="103.08" y1="159.70" x2="104.26" y2="163.50"/><line x1="104.26" y1="163.50" x2="105.44" y2="161.59"/><line x1="105.44" y1="161.59" x2="106.62" y2="166.88"/><line x1="106.62" y1="166.88" x2="107.80" y2="169.72"/><line x1="107.80" y1="169.72" x2="108.98" y2="169.95"/><line x1="108.98" y1="169.95" x2="110.16" y2="176.84"/><line x1="110.16" y1="176.84" x2="111.34" y2="186.27"/><line x1="111.34" y1="186.27" x2="112.52" y2="192.00"/><line x1="112.52" y1="192.00" x2="113.70" y2="190.06"/><line x1="113.70" y1="190.06" x2="114.88" y2="174.55"/><line x1="114.88" y1="174.55" x2="116.06" y2="170.30"/><line x1="116.06" y1="170.30" x2="117.24" y2="180.92"/><line x1="117.24" y1="180.92" x2="118.42" y2="192.05"/><line x1="118.42" y1="192.05" x2="119.60" y2="197.29"/><line x1="119.60" y1="197.29" x2="120.78" y2="176.32"/><line x1="120.78" y1="176.32" x2="121.96" y2="189.31"/><line x1="121.96" y1="189.31" x2="123.14" y2="151.30"/><line x1="123.14" y1="151.30" x2="124.32" y2="180.03"/><line x1="124.32" y1="180.03" x2="125.50" y2="211.80"/><line x1="125.50" y1="211.80" x2="126.68" y2="209.29"/><line x1="126.68" y1="209.29" x2="127.86" y2="195.33"/><line x1="127.86" y1="195.33" x2="129.04" y2="185.19"/><line x1="129.04" y1="185.19" x2="130.22" y2="218.30"/><line x1="130.22" y1="218.30" x2="131.40" y2="178.00"/><line x1="131.40" y1="178.00" x2="132.58" y2="202.73"/><line x1="132.58" y1="202.73" x2="133.76" y2="215.36"/><line x1="133.76" y1="215.36" x2="134.94" y2="197.79"/><line x1="134.94" y1="197.79" x2="136.12" y2="222.60"/><line x1="136.12" y1="222.60" x2="137.30" y2="212.77"/><line x1="137.30" y1="212.77" x2="138.48" y2="205.38"/><line x1="138.48" y1="205.38" x2="139.66" y2="194.79"/><line x1="139.66" y1="194.79" x2="140.84" y2="202.33"/><line x1="140.84" y1="202.33" x2="142.02" y2="227.31"/><line x1="142.02" y1="227.31" x2="143.20" y2="230.00"/><line x1="143.20" y1="230.00" x2="144.38" y2="174.70"/><line x1="144.38" y1="174.70" x2="145.56" y2="198.90"/><line x1="145.56" y1="198.90" x2="146.74" y2="201.77"/><line x1="146.74" y1="201.77" x2="147.92" y2="212.73"/><line x1="147.92" y1="212.73" x2="149.10" y2="227.90"/><line x1="149.10" y1="227.90" x2="150.28" y2="223.56"/><line x1="150.28" y1="223.56" x2="151.46" y2="198.80"/><line x1="151.46" y1="198.80" x2="152.64" y2="210.13"/><line x1="152.64" y1="210.13" x2="153.82" y2="241.35"/><line x1="153.82" y1="241.35" x2="155.00" y2="241.70"/><line x1="155.00" y1="241.70" x2="156.18" y2="220.95"/><line x1="156.18" y1="220.95" x2="157.36" y2="231.35"/><line x1="157.36" y1="231.35" x2="158.54" y2="229.64"/><line x1="158.54" y1="229.64" x2="159.72" y2="213.00"/><line x1="159.72" y1="213.00" x2="160.90" y2="232.94"/><line x1="160.90" y1="232.94" x2="162.08" y2="221.12"/><line x1="162.08" y1="221.12" x2="163.26" y2="238.31"/><line x1="163.26" y1="238.31" x2="164.44" y2="250.00"/><line x1="164.44" y1="250.00" x2="165.62" y2="229.91"/><line x1="165.62" y1="229.91" x2="166.80" y2="238.33"/><line x1="166.80" y1="238.33" x2="167.98" y2="237.16"/><line x1="167.98" y1="237.16" x2="169.16" y2="262.30"/><line x1="169.16" y1="262.30" x2="170.34" y2="246.39"/><line x1="170.34" y1="246.39" x2="171.52" y2="225.16"/><line x1="171.52" y1="225.16" x2="172.70" y2="231.82"/><line x1="172.70" y1="231.82" x2="173.88" y2="219.21"/><line x1="173.88" y1="219.21" x2="175.06" y2="252.76"/><line x1="175.06" y1="252.76" x2="176.24" y2="264.40"/><line x1="176.24" y1="264.40" x2="177.42" y2="250.21"/><line x1="177.42" y1="250.21" x2="178.60" y2="223.71"/><line x1="178.60" y1="223.71" x2="179.78" y2="216.00"/><line x1="179.78" y1="216.00" x2="180.96" y2="247.40"/><line x1="180.96" y1="247.40" x2="182.14" y2="260.98"/><line x1="182.14" y1="260.98" x2="183.32" y2="234.27"/><line x1="183.32" y1="234.27" x2="184.50" y2="234.80"/><line x1="184.50" y1="234.80" x2="185.68" y2="231.80"/><line x1="185.68" y1="231.80" x2="186.86" y2="210.60"/><line x1="186.86" y1="210.60" x2="188.04" y2="244.69"/><line x1="188.04" y1="244.69" x2="189.22" y2="249.05"/><line x1="189.22" y1="249.05" x2="190.40" y2="259.42"/><line x1="190.40" y1="259.42" x2="191.58" y2="237.30"/><line x1="191.58" y1="237.30" x2="192.76" y2="237.70"/><line x1="192.76" y1="237.70" x2="193.94" y2="242.46"/><line x1="193.94" y1="242.46" x2="195.12" y2="258.13"/><line x1="195.12" y1="258.13" x2="196.30" y2="243.32"/><line x1="196.30" y1="243.32" x2="197.48" y2="268.30"/><line x1="197.48" y1="268.30" x2="198.66" y2="270.10"/><line x1="198.66" y1="270.10" x2="199.84" y2="235.64"/><line x1="199.84" y1="235.64" x2="201.02" y2="248.68"/><line x1="201.02" y1="248.68" x2="202.20" y2="258.71"/><line x1="202.20" y1="258.71" x2="203.38" y2="264.70"/><line x1="203.38" y1="264.70" x2="204.56" y2="245.12"/><line x1="204.56" y1="245.12" x2="205.74" y2="235.13"/><line x1="205.74" y1="235.13" x2="206.92" y2="283.33"/><line x1="206.92" y1="283.33" x2="208.10" y2="225.50"/><line x1="208.10" y1="225.50" x2="209.28" y2="249.90"/><line x1="209.28" y1="249.90" x2="210.46" y2="259.71"/><line x1="210.46" y1="259.71" x2="211.64" y2="273.66"/><line x1="211.64" y1="273.66" x2="212.82" y2="266.43"/><line x1="212.82" y1="266.43" x2="214.00" y2="280.50"/><line x1="214.00" y1="280.50" x2="215.18" y2="260.31"/><line x1="215.18" y1="260.31" x2="216.36" y2="246.88"/><line x1="216.36" y1="246.88" x2="217.54" y2="240.59"/><line x1="217.54" y1="240.59" x2="218.72" y2="231.00"/><line x1="218.72" y1="231.00" x2="219.90" y2="256.90"/><line x1="219.90" y1="256.90" x2="221.08" y2="262.98"/><line x1="221.08" y1="262.98" x2="222.26" y2="274.72"/><line x1="222.26" y1="274.72" x2="223.44" y2="272.65"/><line x1="223.44" y1="272.65" x2="224.62" y2="243.04"/><line x1="224.62" y1="243.04" x2="225.80" y2="258.43"/><line x1="225.80" y1="258.43" x2="226.98" y2="253.85"/><line x1="226.98" y1="253.85" x2="228.16" y2="269.25"/><line x1="228.16" y1="269.25" x2="229.34" y2="293.22"/><line x1="229.34" y1="293.22" x2="230.52" y2="241.95"/><line x1="230.52" y1="241.95" x2="231.70" y2="243.60"/><line x1="231.70" y1="243.60" x2="232.88" y2="297.50"/><line x1="232.88" y1="297.50" x2="234.06" y2="265.56"/><line x1="234.06" y1="265.56" x2="235.24" y2="282.36"/><line x1="235.24" y1="282.36" x2="236.42" y2="284.40"/><line x1="236.42" y1="284.40" x2="237.60" y2="288.16"/><line x1="237.60" y1="288.16" x2="238.78" y2="257.07"/><line x1="238.78" y1="257.07" x2="239.96" y2="254.50"/><line x1="239.96" y1="254.50" x2="241.14" y2="289.97"/><line x1="241.14" y1="289.97" x2="242.32" y2="266.03"/><line x1="242.32" y1="266.03" x2="243.50" y2="278.17"/><line x1="243.50" y1="278.17" x2="244.68" y2="299.92"/><line x1="244.68" y1="299.92" x2="245.86" y2="263.14"/><line x1="245.86" y1="263.14" x2="247.04" y2="298.70"/><line x1="247.04" y1="298.70" x2="248.22" y2="276.77"/><line x1="248.22" y1="276.77" x2="249.40" y2="287.47"/><line x1="249.40" y1="287.47" x2="250.58" y2="263.00"/><line x1="250.58" y1="263.00" x2="251.76" y2="309.80"/><line x1="251.76" y1="309.80" x2="252.94" y2="248.40"/><line x1="252.94" y1="248.40" x2="254.12" y2="263.67"/><line x1="254.12" y1="263.67" x2="255.30" y2="289.82"/><line x1="255.30" y1="289.82" x2="256.48" y2="277.15"/><line x1="256.48" y1="277.15" x2="257.66" y2="286.80"/><line x1="257.66" y1="286.80" x2="258.84" y2="277.32"/><line x1="258.84" y1="277.32" x2="260.02" y2="295.25"/><line x1="260.02" y1="295.25" x2="261.20" y2="280.24"/><line x1="261.20" y1="280.24" x2="262.38" y2="267.19"/><line x1="262.38" y1="267.19" x2="263.56" y2="248.80"/><line x1="263.56" y1="248.80" x2="264.74" y2="284.93"/><line x1="264.74" y1="284.93" x2="265.92" y2="264.89"/><line x1="265.92" y1="264.89" x2="267.10" y2="300.64"/><line x1="267.10" y1="300.64" x2="268.28" y2="282.63"/><line x1="268.28" y1="282.63" x2="269.46" y2="278.00"/><line x1="269.46" y1="278.00" x2="270.64" y2="273.70"/><line x1="270.64" y1="273.70" x2="271.82" y2="296.39"/><line x1="271.82" y1="296.39" x2="273.00" y2="291.41"/><line x1="273.00" y1="291.41" x2="274.18" y2="304.00"/><line x1="274.18" y1="304.00" x2="275.36" y2="271.65"/><line x1="275.36" y1="271.65" x2="276.54" y2="274.76"/><line x1="276.54" y1="274.76" x2="277.72" y2="283.44"/><line x1="277.72" y1="283.44" x2="278.90" y2="286.85"/><line x1="278.90" y1="286.85" x2="280.08" y2="285.50"/><line x1="280.08" y1="285.50" x2="281.26" y2="298.95"/><line x1="281.26" y1="298.95" x2="282.44" y2="291.87"/><line x1="282.44" y1="291.87" x2="283.62" y2="245.40"/><line x1="283.62" y1="245.40" x2="284.80" y2="259.40"/><line x1="284.80" y1="259.40" x2="285.98" y2="276.39"/><line x1="285.98" y1="276.39" x2="287.16" y2="303.82"/><line x1="287.16" y1="303.82" x2="288.34" y2="277.53"/><line x1="288.34" y1="277.53" x2="289.52" y2="294.02"/><line x1="289.52" y1="294.02" x2="290.70" y2="285.58"/><line x1="290.70" y1="285.58" x2="291.88" y2="287.95"/><line x1="291.88" y1="287.95" x2="293.06" y2="294.33"/><line x1="293.06" y1="294.33" x2="294.24" y2="301.76"/><line x1="294.24" y1="301.76" x2="295.42" y2="283.68"/><line x1="295.42" y1="283.68" x2="296.60" y2="277.79"/><line x1="296.60" y1="277.79" x2="297.78" y2="275.93"/><line x1="297.78" y1="275.93" x2="298.96" y2="295.71"/><line x1="298.96" y1="295.71" x2="300.14" y2="301.30"/><line x1="300.14" y1="301.30" x2="301.32" y2="279.26"/><line x1="301.32" y1="279.26" x2="302.50" y2="303.11"/><line x1="302.50" y1="303.11" x2="303.68" y2="269.16"/><line x1="303.68" y1="269.16" x2="304.86" y2="307.50"/><line x1="304.86" y1="307.50" x2="306.04" y2="288.48"/><line x1="306.04" y1="288.48" x2="307.22" y2="270.01"/><line x1="307.22" y1="270.01" x2="308.40" y2="299.19"/><line x1="308.40" y1="299.19" x2="309.58" y2="279.52"/><line x1="309.58" y1="279.52" x2="310.76" y2="306.01"/><line x1="310.76" y1="306.01" x2="311.94" y2="305.94"/><line x1="311.94" y1="305.94" x2="313.12" y2="277.96"/><line x1="313.12" y1="277.96" x2="314.30" y2="268.40"/><line x1="314.30" y1="268.40" x2="315.48" y2="286.02"/><line x1="315.48" y1="286.02" x2="316.66" y2="279.66"/><line x1="316.66" y1="279.66" x2="317.84" y2="322.40"/><line x1="317.84" y1="322.40" x2="319.02" y2="305.50"/><line x1="319.02" y1="305.50" x2="320.20" y2="272.78"/><line x1="320.20" y1="272.78" x2="321.38" y2="295.76"/><line x1="321.38" y1="295.76" x2="322.56" y2="311.57"/><line x1="322.56" y1="311.57" x2="323.74" y2="282.73"/><line x1="323.74" y1="282.73" x2="324.92" y2="297.38"/><line x1="324.92" y1="297.38" x2="326.10" y2="316.40"/><line x1="326.10" y1="316.40" x2="327.28" y2="310.29"/><line x1="327.28" y1="310.29" x2="328.46" y2="285.98"/><line x1="328.46" y1="285.98" x2="329.64" y2="283.41"/><line x1="329.64" y1="283.41" x2="330.82" y2="297.83"/><line x1="330.82" y1="297.83" x2="332.00" y2="308.64"/><line x1="332.00" y1="308.64" x2="333.18" y2="271.27"/><line x1="333.18" y1="271.27" x2="334.36" y2="297.49"/><line x1="334.36" y1="297.49" x2="335.54" y2="299.84"/><line x1="335.54" y1="299.84" x2="336.72" y2="307.66"/><line x1="336.72" y1="307.66" x2="337.90" y2="284.16"/><line x1="337.90" y1="284.16" x2="339.08" y2="232.60"/><line x1="339.08" y1="232.60" x2="340.26" y2="277.00"/><line x1="340.26" y1="277.00" x2="341.44" y2="295.38"/><line x1="341.44" y1="295.38" x2="342.62" y2="317.76"/><line x1="342.62" y1="317.76" x2="343.80" y2="287.56"/><line x1="343.80" y1="287.56" x2="344.98" y2="290.97"/><line x1="344.98" y1="290.97" x2="346.16" y2="288.90"/><line x1="346.16" y1="288.90" x2="347.34" y2="305.58"/><line x1="347.34" y1="305.58" x2="348.52" y2="311.29"/><line x1="348.52" y1="311.29" x2="349.70" y2="321.70"/><line x1="349.70" y1="321.70" x2="350.88" y2="316.29"/><line x1="350.88" y1="316.29" x2="352.06" y2="298.99"/><line x1="352.06" y1="298.99" x2="353.24" y2="288.98"/><line x1="353.24" y1="288.98" x2="354.42" y2="292.72"/><line x1="354.42" y1="292.72" x2="355.60" y2="281.37"/><line x1="355.60" y1="281.37" x2="356.78" y2="289.59"/><line x1="356.78" y1="289.59" x2="357.96" y2="320.53"/><line x1="357.96" y1="320.53" x2="359.14" y2="308.21"/><line x1="359.14" y1="308.21" x2="360.32" y2="305.31"/><line x1="360.32" y1="305.31" x2="361.50" y2="301.46"/><line x1="361.50" y1="301.46" x2="362.68" y2="287.63"/><line x1="362.68" y1="287.63" x2="363.86" y2="294.71"/><line x1="363.86" y1="294.71" x2="365.04" y2="307.21"/><line x1="365.04" y1="307.21" x2="366.22" y2="313.92"/><line x1="366.22" y1="313.92" x2="367.40" y2="304.29"/><line x1="367.40" y1="304.29" x2="368.58" y2="292.97"/><line x1="368.58" y1="292.97" x2="369.76" y2="312.05"/><line x1="369.76" y1="312.05" x2="370.94" y2="296.28"/><line x1="370.94" y1="296.28" x2="372.12" y2="296.10"/><line x1="372.12" y1="296.10" x2="373.30" y2="314.36"/><line x1="373.30" y1="314.36" x2="374.48" y2="309.93"/><line x1="374.48" y1="309.93" x2="375.66" y2="303.55"/><line x1="375.66" y1="303.55" x2="376.84" y2="303.87"/><line x1="376.84" y1="303.87" x2="378.02" y2="313.13"/><line x1="378.02" y1="313.13" x2="379.20" y2="310.13"/><line x1="379.20" y1="310.13" x2="380.38" y2="303.82"/><line x1="380.38" y1="303.82" x2="381.56" y2="298.48"/><line x1="381.56" y1="298.48" x2="382.74" y2="318.82"/><line x1="382.74" y1="318.82" x2="383.92" y2="309.65"/><line x1="383.92" y1="309.65" x2="385.10" y2="306.31"/><line x1="385.10" y1="306.31" x2="386.28" y2="296.00"/><line x1="386.28" y1="296.00" x2="387.46" y2="316.27"/><line x1="387.46" y1="316.27" x2="388.64" y2="302.66"/><line x1="388.64" y1="302.66" x2="389.82" y2="312.59"/><line x1="389.82" y1="312.59" x2="391.00" y2="323.00"/><line x1="391.00" y1="323.00" x2="392.18" y2="308.53"/><line x1="392.18" y1="308.53" x2="393.36" y2="307.49"/><line x1="393.36" y1="307.49" x2="394.54" y2="302.17"/><line x1="394.54" y1="302.17" x2="395.72" y2="308.14"/><line x1="395.72" y1="308.14" x2="396.90" y2="316.03"/><line x1="396.90" y1="316.03" x2="398.08" y2="321.27"/><line x1="398.08" y1="321.27" x2="399.26" y2="319.38"/><line x1="399.26" y1="319.38" x2="400.44" y2="290.63"/><line x1="400.44" y1="290.63" x2="401.62" y2="302.06"/><line x1="401.62" y1="302.06" x2="402.80" y2="310.71"/><line x1="402.80" y1="310.71" x2="403.98" y2="304.25"/><line x1="403.98" y1="304.25" x2="405.16" y2="292.08"/><line x1="405.16" y1="292.08" x2="406.34" y2="298.77"/><line x1="406.34" y1="298.77" x2="407.52" y2="285.70"/><line x1="407.52" y1="285.70" x2="408.70" y2="324.03"/><line x1="408.70" y1="324.03" x2="409.88" y2="314.64"/><line x1="409.88" y1="314.64" x2="411.06" y2="309.00"/><line x1="411.06" y1="309.00" x2="412.24" y2="316.39"/><line x1="412.24" y1="316.39" x2="413.42" y2="294.43"/><line x1="413.42" y1="294.43" x2="414.60" y2="319.47"/><line x1="414.60" y1="319.47" x2="415.78" y2="235.80"/><line x1="415.78" y1="235.80" x2="416.96" y2="306.82"/><line x1="416.96" y1="306.82" x2="418.14" y2="297.35"/><line x1="418.14" y1="297.35" x2="419.32" y2="312.97"/><line x1="419.32" y1="312.97" x2="420.50" y2="321.73"/><line x1="420.50" y1="321.73" x2="421.68" y2="319.17"/><line x1="421.68" y1="319.17" x2="422.86" y2="296.28"/><line x1="422.86" y1="296.28" x2="424.04" y2="313.20"/><line x1="424.04" y1="313.20" x2="425.22" y2="308.50"/><line x1="425.22" y1="308.50" x2="426.40" y2="317.17"/><line x1="426.40" y1="317.17" x2="427.58" y2="325.71"/><line x1="427.58" y1="325.71" x2="428.76" y2="297.76"/><line x1="428.76" y1="297.76" x2="429.94" y2="293.80"/><line x1="429.94" y1="293.80" x2="431.12" y2="299.30"/><line x1="431.12" y1="299.30" x2="432.30" y2="319.56"/><line x1="432.30" y1="319.56" x2="433.48" y2="303.71"/><line x1="433.48" y1="303.71" x2="434.66" y2="312.72"/><line x1="434.66" y1="312.72" x2="435.84" y2="289.50"/><line x1="435.84" y1="289.50" x2="437.02" y2="311.69"/><line x1="437.02" y1="311.69" x2="438.20" y2="322.49"/><line x1="438.20" y1="322.49" x2="439.38" y2="299.90"/><line x1="439.38" y1="299.90" x2="440.56" y2="310.46"/><line x1="440.56" y1="310.46" x2="441.74" y2="321.64"/><line x1="441.74" y1="321.64" x2="442.92" y2="291.94"/><line x1="442.92" y1="291.94" x2="444.10" y2="323.06"/><line x1="444.10" y1="323.06" x2="445.28" y2="311.92"/><line x1="445.28" y1="311.92" x2="446.46" y2="305.93"/><line x1="446.46" y1="305.93" x2="447.64" y2="302.17"/><line x1="447.64" y1="302.17" x2="448.82" y2="317.61"/><line x1="448.82" y1="317.61" x2="450.00" y2="294.87"/><line x1="450.00" y1="294.87" x2="451.18" y2="325.35"/><line x1="451.18" y1="325.35" x2="452.36" y2="308.40"/><line x1="452.36" y1="308.40" x2="453.54" y2="318.83"/><line x1="453.54" y1="318.83" x2="454.72" y2="310.48"/><line x1="454.72" y1="310.48" x2="455.90" y2="289.50"/><line x1="455.90" y1="289.50" x2="457.08" y2="309.96"/><line x1="457.08" y1="309.96" x2="458.26" y2="328.65"/><line x1="458.26" y1="328.65" x2="459.44" y2="323.40"/><line x1="459.44" y1="323.40" x2="460.62" y2="314.58"/><line x1="460.62" y1="314.58" x2="461.80" y2="309.82"/><line x1="461.80" y1="309.82" x2="462.98" y2="318.71"/><line x1="462.98" y1="318.71" x2="464.16" y2="304.77"/><line x1="464.16" y1="304.77" x2="465.34" y2="309.60"/><line x1="465.34" y1="309.60" x2="466.52" y2="324.57"/><line x1="466.52" y1="324.57" x2="467.70" y2="315.69"/><line x1="467.70" y1="315.69" x2="468.88" y2="321.40"/><line x1="468.88" y1="321.40" x2="470.06" y2="312.41"/><line x1="470.06" y1="312.41" x2="471.24" y2="331.72"/><line x1="471.24" y1="331.72" x2="472.42" y2="333.24"/><line x1="472.42" y1="333.24" x2="473.60" y2="306.41"/><line x1="473.60" y1="306.41" x2="474.78" y2="323.53"/><line x1="474.78" y1="323.53" x2="475.96" y2="321.62"/><line x1="475.96" y1="321.62" x2="477.14" y2="311.96"/><line x1="477.14" y1="311.96" x2="478.32" y2="310.27"/><line x1="478.32" y1="310.27" x2="479.50" y2="323.87"/><line x1="479.50" y1="323.87" x2="480.68" y2="319.60"/><line x1="480.68" y1="319.60" x2="481.86" y2="317.35"/><line x1="481.86" y1="317.35" x2="483.04" y2="312.83"/><line x1="483.04" y1="312.83" x2="484.22" y2="340.60"/><line x1="484.22" y1="340.60" x2="485.40" y2="310.85"/><line x1="485.40" y1="310.85" x2="486.58" y2="334.13"/><line x1="486.58" y1="334.13" x2="487.76" y2="320.55"/><line x1="487.76" y1="320.55" x2="488.94" y2="315.97"/><line x1="488.94" y1="315.97" x2="490.12" y2="327.65"/><line x1="490.12" y1="327.65" x2="491.30" y2="305.53"/><line x1="491.30" y1="305.53" x2="492.48" y2="302.50"/><line x1="492.48" y1="302.50" x2="493.66" y2="310.82"/><line x1="493.66" y1="310.82" x2="494.84" y2="325.83"/><line x1="494.84" y1="325.83" x2="496.02" y2="318.06"/><line x1="496.02" y1="318.06" x2="497.20" y2="330.57"/><line x1="497.20" y1="330.57" x2="498.38" y2="320.79"/><line x1="498.38" y1="320.79" x2="499.56" y2="332.40"/><line x1="499.56" y1="332.40" x2="500.74" y2="316.29"/><line x1="500.74" y1="316.29" x2="501.92" y2="340.60"/><line x1="501.92" y1="340.60" x2="503.10" y2="310.33"/><line x1="503.10" y1="310.33" x2="504.28" y2="303.03"/><line x1="504.28" y1="303.03" x2="505.46" y2="318.91"/><line x1="505.46" y1="318.91" x2="506.64" y2="326.67"/><line x1="506.64" y1="326.67" x2="507.82" y2="316.94"/><line x1="507.82" y1="316.94" x2="509.00" y2="308.02"/><line x1="509.00" y1="308.02" x2="510.18" y2="341.40"/><line x1="510.18" y1="341.40" x2="511.36" y2="325.26"/><line x1="511.36" y1="325.26" x2="512.54" y2="313.64"/><line x1="512.54" y1="313.64" x2="513.72" y2="329.19"/><line x1="513.72" y1="329.19" x2="514.90" y2="301.70"/><line x1="514.90" y1="301.70" x2="516.08" y2="326.19"/><line x1="516.08" y1="326.19" x2="517.26" y2="311.63"/><line x1="517.26" y1="311.63" x2="518.44" y2="319.47"/><line x1="518.44" y1="319.47" x2="519.62" y2="315.63"/><line x1="519.62" y1="315.63" x2="520.80" y2="330.84"/><line x1="520.80" y1="330.84" x2="521.98" y2="324.35"/><line x1="521.98" y1="324.35" x2="523.16" y2="326.52"/><line x1="523.16" y1="326.52" x2="524.34" y2="325.83"/><line x1="524.34" y1="325.83" x2="525.52" y2="318.50"/><line x1="525.52" y1="318.50" x2="526.70" y2="311.18"/><line x1="526.70" y1="311.18" x2="527.88" y2="329.65"/><line x1="527.88" y1="329.65" x2="529.06" y2="321.23"/><line x1="529.06" y1="321.23" x2="530.24" y2="316.29"/><line x1="530.24" y1="316.29" x2="531.42" y2="340.00"/><line x1="531.42" y1="340.00" x2="532.60" y2="328.29"/><line x1="532.60" y1="328.29" x2="533.78" y2="317.96"/><line x1="533.78" y1="317.96" x2="534.96" y2="329.74"/><line x1="534.96" y1="329.74" x2="536.14" y2="312.90"/><line x1="536.14" y1="312.90" x2="537.32" y2="330.21"/></g><g fill="#FFC000"><circle cx="66.50" cy="60.80" r="4.8"/><circle cx="67.68" cy="63.50" r="4.8"/><circle cx="68.86" cy="64.50" r="4.8"/><circle cx="70.04" cy="77.48" r="4.8"/><circle cx="71.22" cy="95.00" r="4.8"/><circle cx="72.40" cy="70.50" r="4.8"/><circle cx="73.58" cy="89.46" r="4.8"/><circle cx="74.76" cy="79.06" r="4.8"/><circle cx="75.94" cy="76.50" r="4.8"/><circle cx="77.12" cy="102.00" r="4.8"/><circle cx="78.30" cy="84.58" r="4.8"/><circle cx="79.48" cy="96.29" r="4.8"/><circle cx="80.66" cy="84.00" r="4.8"/><circle cx="81.84" cy="101.50" r="4.8"/><circle cx="83.02" cy="87.30" r="4.8"/><circle cx="84.20" cy="116.60" r="4.8"/><circle cx="85.38" cy="118.28" r="4.8"/><circle cx="86.56" cy="115.89" r="4.8"/><circle cx="87.74" cy="121.94" r="4.8"/><circle cx="88.92" cy="102.30" r="4.8"/><circle cx="90.10" cy="125.34" r="4.8"/><circle cx="91.28" cy="130.13" r="4.8"/><circle cx="92.46" cy="132.70" r="4.8"/><circle cx="93.64" cy="134.26" r="4.8"/><circle cx="94.82" cy="142.35" r="4.8"/><circle cx="96.00" cy="145.92" r="4.8"/><circle cx="97.18" cy="144.54" r="4.8"/><circle cx="98.36" cy="151.10" r="4.8"/><circle cx="99.54" cy="153.88" r="4.8"/><circle cx="100.72" cy="156.85" r="4.8"/><circle cx="101.90" cy="160.53" r="4.8"/><circle cx="103.08" cy="159.70" r="4.8"/><circle cx="104.26" cy="163.50" r="4.8"/><circle cx="105.44" cy="161.59" r="4.8"/><circle cx="106.62" cy="166.88" r="4.8"/><circle cx="107.80" cy="169.72" r="4.8"/><circle cx="108.98" cy="169.95" r="4.8"/><circle cx="110.16" cy="176.84" r="4.8"/><circle cx="111.34" cy="186.27" r="4.8"/><circle cx="112.52" cy="192.00" r="4.8"/><circle cx="113.70" cy="190.06" r="4.8"/><circle cx="114.88" cy="174.55" r="4.8"/><circle cx="116.06" cy="170.30" r="4.8"/><circle cx="117.24" cy="180.92" r="4.8"/><circle cx="118.42" cy="192.05" r="4.8"/><circle cx="119.60" cy="197.29" r="4.8"/><circle cx="120.78" cy="176.32" r="4.8"/><circle cx="121.96" cy="189.31" r="4.8"/><circle cx="123.14" cy="151.30" r="4.8"/><circle cx="124.32" cy="180.03" r="4.8"/><circle cx="125.50" cy="211.80" r="4.8"/><circle cx="126.68" cy="209.29" r="4.8"/><circle cx="127.86" cy="195.33" r="4.8"/><circle cx="129.04" cy="185.19" r="4.8"/><circle cx="130.22" cy="218.30" r="4.8"/><circle cx="131.40" cy="178.00" r="4.8"/><circle cx="132.58" cy="202.73" r="4.8"/><circle cx="133.76" cy="215.36" r="4.8"/><circle cx="134.94" cy="197.79" r="4.8"/><circle cx="136.12" cy="222.60" r="4.8"/><circle cx="137.30" cy="212.77" r="4.8"/><circle cx="138.48" cy="205.38" r="4.8"/><circle cx="139.66" cy="194.79" r="4.8"/><circle cx="140.84" cy="202.33" r="4.8"/><circle cx="142.02" cy="227.31" r="4.8"/><circle cx="143.20" cy="230.00" r="4.8"/><circle cx="144.38" cy="174.70" r="4.8"/><circle cx="145.56" cy="198.90" r="4.8"/><circle cx="146.74" cy="201.77" r="4.8"/><circle cx="147.92" cy="212.73" r="4.8"/><circle cx="149.10" cy="227.90" r="4.8"/><circle cx="150.28" cy="223.56" r="4.8"/><circle cx="151.46" cy="198.80" r="4.8"/><circle cx="152.64" cy="210.13" r="4.8"/><circle cx="153.82" cy="241.35" r="4.8"/><circle cx="155.00" cy="241.70" r="4.8"/><circle cx="156.18" cy="220.95" r="4.8"/><circle cx="157.36" cy="231.35" r="4.8"/><circle cx="158.54" cy="229.64" r="4.8"/><circle cx="159.72" cy="213.00" r="4.8"/><circle cx="160.90" cy="232.94" r="4.8"/><circle cx="162.08" cy="221.12" r="4.8"/><circle cx="163.26" cy="238.31" r="4.8"/><circle cx="164.44" cy="250.00" r="4.8"/><circle cx="165.62" cy="229.91" r="4.8"/><circle cx="166.80" cy="238.33" r="4.8"/><circle cx="167.98" cy="237.16" r="4.8"/><circle cx="169.16" cy="262.30" r="4.8"/><circle cx="170.34" cy="246.39" r="4.8"/><circle cx="171.52" cy="225.16" r="4.8"/><circle cx="172.70" cy="231.82" r="4.8"/><circle cx="173.88" cy="219.21" r="4.8"/><circle cx="175.06" cy="252.76" r="4.8"/><circle cx="176.24" cy="264.40" r="4.8"/><circle cx="177.42" cy="250.21" r="4.8"/><circle cx="178.60" cy="223.71" r="4.8"/><circle cx="179.78" cy="216.00" r="4.8"/><circle cx="180.96" cy="247.40" r="4.8"/><circle cx="182.14" cy="260.98" r="4.8"/><circle cx="183.32" cy="234.27" r="4.8"/><circle cx="184.50" cy="234.80" r="4.8"/><circle cx="185.68" cy="231.80" r="4.8"/><circle cx="186.86" cy="210.60" r="4.8"/><circle cx="188.04" cy="244.69" r="4.8"/><circle cx="189.22" cy="249.05" r="4.8"/><circle cx="190.40" cy="259.42" r="4.8"/><circle cx="191.58" cy="237.30" r="4.8"/><circle cx="192.76" cy="237.70" r="4.8"/><circle cx="193.94" cy="242.46" r="4.8"/><circle cx="195.12" cy="258.13" r="4.8"/><circle cx="196.30" cy="243.32" r="4.8"/><circle cx="197.48" cy="268.30" r="4.8"/><circle cx="198.66" cy="270.10" r="4.8"/><circle cx="199.84" cy="235.64" r="4.8"/><circle cx="201.02" cy="248.68" r="4.8"/><circle cx="202.20" cy="258.71" r="4.8"/><circle cx="203.38" cy="264.70" r="4.8"/><circle cx="204.56" cy="245.12" r="4.8"/><circle cx="205.74" cy="235.13" r="4.8"/><circle cx="206.92" cy="283.33" r="4.8"/><circle cx="208.10" cy="225.50" r="4.8"/><circle cx="209.28" cy="249.90" r="4.8"/><circle cx="210.46" cy="259.71" r="4.8"/><circle cx="211.64" cy="273.66" r="4.8"/><circle cx="212.82" cy="266.43" r="4.8"/><circle cx="214.00" cy="280.50" r="4.8"/><circle cx="215.18" cy="260.31" r="4.8"/><circle cx="216.36" cy="246.88" r="4.8"/><circle cx="217.54" cy="240.59" r="4.8"/><circle cx="218.72" cy="231.00" r="4.8"/><circle cx="219.90" cy="256.90" r="4.8"/><circle cx="221.08" cy="262.98" r="4.8"/><circle cx="222.26" cy="274.72" r="4.8"/><circle cx="223.44" cy="272.65" r="4.8"/><circle cx="224.62" cy="243.04" r="4.8"/><circle cx="225.80" cy="258.43" r="4.8"/><circle cx="226.98" cy="253.85" r="4.8"/><circle cx="228.16" cy="269.25" r="4.8"/><circle cx="229.34" cy="293.22" r="4.8"/><circle cx="230.52" cy="241.95" r="4.8"/><circle cx="231.70" cy="243.60" r="4.8"/><circle cx="232.88" cy="297.50" r="4.8"/><circle cx="234.06" cy="265.56" r="4.8"/><circle cx="235.24" cy="282.36" r="4.8"/><circle cx="236.42" cy="284.40" r="4.8"/><circle cx="237.60" cy="288.16" r="4.8"/><circle cx="238.78" cy="257.07" r="4.8"/><circle cx="239.96" cy="254.50" r="4.8"/><circle cx="241.14" cy="289.97" r="4.8"/><circle cx="242.32" cy="266.03" r="4.8"/><circle cx="243.50" cy="278.17" r="4.8"/><circle cx="244.68" cy="299.92" r="4.8"/><circle cx="245.86" cy="263.14" r="4.8"/><circle cx="247.04" cy="298.70" r="4.8"/><circle cx="248.22" cy="276.77" r="4.8"/><circle cx="249.40" cy="287.47" r="4.8"/><circle cx="250.58" cy="263.00" r="4.8"/><circle cx="251.76" cy="309.80" r="4.8"/><circle cx="252.94" cy="248.40" r="4.8"/><circle cx="254.12" cy="263.67" r="4.8"/><circle cx="255.30" cy="289.82" r="4.8"/><circle cx="256.48" cy="277.15" r="4.8"/><circle cx="257.66" cy="286.80" r="4.8"/><circle cx="258.84" cy="277.32" r="4.8"/><circle cx="260.02" cy="295.25" r="4.8"/><circle cx="261.20" cy="280.24" r="4.8"/><circle cx="262.38" cy="267.19" r="4.8"/><circle cx="263.56" cy="248.80" r="4.8"/><circle cx="264.74" cy="284.93" r="4.8"/><circle cx="265.92" cy="264.89" r="4.8"/><circle cx="267.10" cy="300.64" r="4.8"/><circle cx="268.28" cy="282.63" r="4.8"/><circle cx="269.46" cy="278.00" r="4.8"/><circle cx="270.64" cy="273.70" r="4.8"/><circle cx="271.82" cy="296.39" r="4.8"/><circle cx="273.00" cy="291.41" r="4.8"/><circle cx="274.18" cy="304.00" r="4.8"/><circle cx="275.36" cy="271.65" r="4.8"/><circle cx="276.54" cy="274.76" r="4.8"/><circle cx="277.72" cy="283.44" r="4.8"/><circle cx="278.90" cy="286.85" r="4.8"/><circle cx="280.08" cy="285.50" r="4.8"/><circle cx="281.26" cy="298.95" r="4.8"/><circle cx="282.44" cy="291.87" r="4.8"/><circle cx="283.62" cy="245.40" r="4.8"/><circle cx="284.80" cy="259.40" r="4.8"/><circle cx="285.98" cy="276.39" r="4.8"/><circle cx="287.16" cy="303.82" r="4.8"/><circle cx="288.34" cy="277.53" r="4.8"/><circle cx="289.52" cy="294.02" r="4.8"/><circle cx="290.70" cy="285.58" r="4.8"/><circle cx="291.88" cy="287.95" r="4.8"/><circle cx="293.06" cy="294.33" r="4.8"/><circle cx="294.24" cy="301.76" r="4.8"/><circle cx="295.42" cy="283.68" r="4.8"/><circle cx="296.60" cy="277.79" r="4.8"/><circle cx="297.78" cy="275.93" r="4.8"/><circle cx="298.96" cy="295.71" r="4.8"/><circle cx="300.14" cy="301.30" r="4.8"/><circle cx="301.32" cy="279.26" r="4.8"/><circle cx="302.50" cy="303.11" r="4.8"/><circle cx="303.68" cy="269.16" r="4.8"/><circle cx="304.86" cy="307.50" r="4.8"/><circle cx="306.04" cy="288.48" r="4.8"/><circle cx="307.22" cy="270.01" r="4.8"/><circle cx="308.40" cy="299.19" r="4.8"/><circle cx="309.58" cy="279.52" r="4.8"/><circle cx="310.76" cy="306.01" r="4.8"/><circle cx="311.94" cy="305.94" r="4.8"/><circle cx="313.12" cy="277.96" r="4.8"/><circle cx="314.30" cy="268.40" r="4.8"/><circle cx="315.48" cy="286.02" r="4.8"/><circle cx="316.66" cy="279.66" r="4.8"/><circle cx="317.84" cy="322.40" r="4.8"/><circle cx="319.02" cy="305.50" r="4.8"/><circle cx="320.20" cy="272.78" r="4.8"/><circle cx="321.38" cy="295.76" r="4.8"/><circle cx="322.56" cy="311.57" r="4.8"/><circle cx="323.74" cy="282.73" r="4.8"/><circle cx="324.92" cy="297.38" r="4.8"/><circle cx="326.10" cy="316.40" r="4.8"/><circle cx="327.28" cy="310.29" r="4.8"/><circle cx="328.46" cy="285.98" r="4.8"/><circle cx="329.64" cy="283.41" r="4.8"/><circle cx="330.82" cy="297.83" r="4.8"/><circle cx="332.00" cy="308.64" r="4.8"/><circle cx="333.18" cy="271.27" r="4.8"/><circle cx="334.36" cy="297.49" r="4.8"/><circle cx="335.54" cy="299.84" r="4.8"/><circle cx="336.72" cy="307.66" r="4.8"/><circle cx="337.90" cy="284.16" r="4.8"/><circle cx="339.08" cy="232.60" r="4.8"/><circle cx="340.26" cy="277.00" r="4.8"/><circle cx="341.44" cy="295.38" r="4.8"/><circle cx="342.62" cy="317.76" r="4.8"/><circle cx="343.80" cy="287.56" r="4.8"/><circle cx="344.98" cy="290.97" r="4.8"/><circle cx="346.16" cy="288.90" r="4.8"/><circle cx="347.34" cy="305.58" r="4.8"/><circle cx="348.52" cy="311.29" r="4.8"/><circle cx="349.70" cy="321.70" r="4.8"/><circle cx="350.88" cy="316.29" r="4.8"/><circle cx="352.06" cy="298.99" r="4.8"/><circle cx="353.24" cy="288.98" r="4.8"/><circle cx="354.42" cy="292.72" r="4.8"/><circle cx="355.60" cy="281.37" r="4.8"/><circle cx="356.78" cy="289.59" r="4.8"/><circle cx="357.96" cy="320.53" r="4.8"/><circle cx="359.14" cy="308.21" r="4.8"/><circle cx="360.32" cy="305.31" r="4.8"/><circle cx="361.50" cy="301.46" r="4.8"/><circle cx="362.68" cy="287.63" r="4.8"/><circle cx="363.86" cy="294.71" r="4.8"/><circle cx="365.04" cy="307.21" r="4.8"/><circle cx="366.22" cy="313.92" r="4.8"/><circle cx="367.40" cy="304.29" r="4.8"/><circle cx="368.58" cy="292.97" r="4.8"/><circle cx="369.76" cy="312.05" r="4.8"/><circle cx="370.94" cy="296.28" r="4.8"/><circle cx="372.12" cy="296.10" r="4.8"/><circle cx="373.30" cy="314.36" r="4.8"/><circle cx="374.48" cy="309.93" r="4.8"/><circle cx="375.66" cy="303.55" r="4.8"/><circle cx="376.84" cy="303.87" r="4.8"/><circle cx="378.02" cy="313.13" r="4.8"/><circle cx="379.20" cy="310.13" r="4.8"/><circle cx="380.38" cy="303.82" r="4.8"/><circle cx="381.56" cy="298.48" r="4.8"/><circle cx="382.74" cy="318.82" r="4.8"/><circle cx="383.92" cy="309.65" r="4.8"/><circle cx="385.10" cy="306.31" r="4.8"/><circle cx="386.28" cy="296.00" r="4.8"/><circle cx="387.46" cy="316.27" r="4.8"/><circle cx="388.64" cy="302.66" r="4.8"/><circle cx="389.82" cy="312.59" r="4.8"/><circle cx="391.00" cy="323.00" r="4.8"/><circle cx="392.18" cy="308.53" r="4.8"/><circle cx="393.36" cy="307.49" r="4.8"/><circle cx="394.54" cy="302.17" r="4.8"/><circle cx="395.72" cy="308.14" r="4.8"/><circle cx="396.90" cy="316.03" r="4.8"/><circle cx="398.08" cy="321.27" r="4.8"/><circle cx="399.26" cy="319.38" r="4.8"/><circle cx="400.44" cy="290.63" r="4.8"/><circle cx="401.62" cy="302.06" r="4.8"/><circle cx="402.80" cy="310.71" r="4.8"/><circle cx="403.98" cy="304.25" r="4.8"/><circle cx="405.16" cy="292.08" r="4.8"/><circle cx="406.34" cy="298.77" r="4.8"/><circle cx="407.52" cy="285.70" r="4.8"/><circle cx="408.70" cy="324.03" r="4.8"/><circle cx="409.88" cy="314.64" r="4.8"/><circle cx="411.06" cy="309.00" r="4.8"/><circle cx="412.24" cy="316.39" r="4.8"/><circle cx="413.42" cy="294.43" r="4.8"/><circle cx="414.60" cy="319.47" r="4.8"/><circle cx="415.78" cy="235.80" r="4.8"/><circle cx="416.96" cy="306.82" r="4.8"/><circle cx="418.14" cy="297.35" r="4.8"/><circle cx="419.32" cy="312.97" r="4.8"/><circle cx="420.50" cy="321.73" r="4.8"/><circle cx="421.68" cy="319.17" r="4.8"/><circle cx="422.86" cy="296.28" r="4.8"/><circle cx="424.04" cy="313.20" r="4.8"/><circle cx="425.22" cy="308.50" r="4.8"/><circle cx="426.40" cy="317.17" r="4.8"/><circle cx="427.58" cy="325.71" r="4.8"/><circle cx="428.76" cy="297.76" r="4.8"/><circle cx="429.94" cy="293.80" r="4.8"/><circle cx="431.12" cy="299.30" r="4.8"/><circle cx="432.30" cy="319.56" r="4.8"/><circle cx="433.48" cy="303.71" r="4.8"/><circle cx="434.66" cy="312.72" r="4.8"/><circle cx="435.84" cy="289.50" r="4.8"/><circle cx="437.02" cy="311.69" r="4.8"/><circle cx="438.20" cy="322.49" r="4.8"/><circle cx="439.38" cy="299.90" r="4.8"/><circle cx="440.56" cy="310.46" r="4.8"/><circle cx="441.74" cy="321.64" r="4.8"/><circle cx="442.92" cy="291.94" r="4.8"/><circle cx="444.10" cy="323.06" r="4.8"/><circle cx="445.28" cy="311.92" r="4.8"/><circle cx="446.46" cy="305.93" r="4.8"/><circle cx="447.64" cy="302.17" r="4.8"/><circle cx="448.82" cy="317.61" r="4.8"/><circle cx="450.00" cy="294.87" r="4.8"/><circle cx="451.18" cy="325.35" r="4.8"/><circle cx="452.36" cy="308.40" r="4.8"/><circle cx="453.54" cy="318.83" r="4.8"/><circle cx="454.72" cy="310.48" r="4.8"/><circle cx="455.90" cy="289.50" r="4.8"/><circle cx="457.08" cy="309.96" r="4.8"/><circle cx="458.26" cy="328.65" r="4.8"/><circle cx="459.44" cy="323.40" r="4.8"/><circle cx="460.62" cy="314.58" r="4.8"/><circle cx="461.80" cy="309.82" r="4.8"/><circle cx="462.98" cy="318.71" r="4.8"/><circle cx="464.16" cy="304.77" r="4.8"/><circle cx="465.34" cy="309.60" r="4.8"/><circle cx="466.52" cy="324.57" r="4.8"/><circle cx="467.70" cy="315.69" r="4.8"/><circle cx="468.88" cy="321.40" r="4.8"/><circle cx="470.06" cy="312.41" r="4.8"/><circle cx="471.24" cy="331.72" r="4.8"/><circle cx="472.42" cy="333.24" r="4.8"/><circle cx="473.60" cy="306.41" r="4.8"/><circle cx="474.78" cy="323.53" r="4.8"/><circle cx="475.96" cy="321.62" r="4.8"/><circle cx="477.14" cy="311.96" r="4.8"/><circle cx="478.32" cy="310.27" r="4.8"/><circle cx="479.50" cy="323.87" r="4.8"/><circle cx="480.68" cy="319.60" r="4.8"/><circle cx="481.86" cy="317.35" r="4.8"/><circle cx="483.04" cy="312.83" r="4.8"/><circle cx="484.22" cy="340.60" r="4.8"/><circle cx="485.40" cy="310.85" r="4.8"/><circle cx="486.58" cy="334.13" r="4.8"/><circle cx="487.76" cy="320.55" r="4.8"/><circle cx="488.94" cy="315.97" r="4.8"/><circle cx="490.12" cy="327.65" r="4.8"/><circle cx="491.30" cy="305.53" r="4.8"/><circle cx="492.48" cy="302.50" r="4.8"/><circle cx="493.66" cy="310.82" r="4.8"/><circle cx="494.84" cy="325.83" r="4.8"/><circle cx="496.02" cy="318.06" r="4.8"/><circle cx="497.20" cy="330.57" r="4.8"/><circle cx="498.38" cy="320.79" r="4.8"/><circle cx="499.56" cy="332.40" r="4.8"/><circle cx="500.74" cy="316.29" r="4.8"/><circle cx="501.92" cy="340.60" r="4.8"/><circle cx="503.10" cy="310.33" r="4.8"/><circle cx="504.28" cy="303.03" r="4.8"/><circle cx="505.46" cy="318.91" r="4.8"/><circle cx="506.64" cy="326.67" r="4.8"/><circle cx="507.82" cy="316.94" r="4.8"/><circle cx="509.00" cy="308.02" r="4.8"/><circle cx="510.18" cy="341.40" r="4.8"/><circle cx="511.36" cy="325.26" r="4.8"/><circle cx="512.54" cy="313.64" r="4.8"/><circle cx="513.72" cy="329.19" r="4.8"/><circle cx="514.90" cy="301.70" r="4.8"/><circle cx="516.08" cy="326.19" r="4.8"/><circle cx="517.26" cy="311.63" r="4.8"/><circle cx="518.44" cy="319.47" r="4.8"/><circle cx="519.62" cy="315.63" r="4.8"/><circle cx="520.80" cy="330.84" r="4.8"/><circle cx="521.98" cy="324.35" r="4.8"/><circle cx="523.16" cy="326.52" r="4.8"/><circle cx="524.34" cy="325.83" r="4.8"/><circle cx="525.52" cy="318.50" r="4.8"/><circle cx="526.70" cy="311.18" r="4.8"/><circle cx="527.88" cy="329.65" r="4.8"/><circle cx="529.06" cy="321.23" r="4.8"/><circle cx="530.24" cy="316.29" r="4.8"/><circle cx="531.42" cy="340.00" r="4.8"/><circle cx="532.60" cy="328.29" r="4.8"/><circle cx="533.78" cy="317.96" r="4.8"/><circle cx="534.96" cy="329.74" r="4.8"/><circle cx="536.14" cy="312.90" r="4.8"/><circle cx="537.32" cy="330.21" r="4.8"/></g></g>
<line x1="168" y1="27.8" x2="201.2" y2="27.8" stroke="#5B9BD5" stroke-opacity="0.65" stroke-width="3.7" stroke-linecap="round"/><circle cx="184.7" cy="27.8" r="4.85" fill="#5B9BD5"/>
<text x="211" y="36.3" font-size="22.2px" textLength="48.5" lengthAdjust="spacingAndGlyphs">Ours</text>
<line x1="269.5" y1="27.8" x2="302.5" y2="27.8" stroke="#FFC000" stroke-opacity="0.7" stroke-width="3.7" stroke-linecap="round"/><circle cx="286" cy="27.8" r="4.85" fill="#FFC000"/>
<text x="312" y="36.3" font-size="22.2px" textLength="147.5" lengthAdjust="spacingAndGlyphs">DisfluencyNet</text>
</svg></body></html>
